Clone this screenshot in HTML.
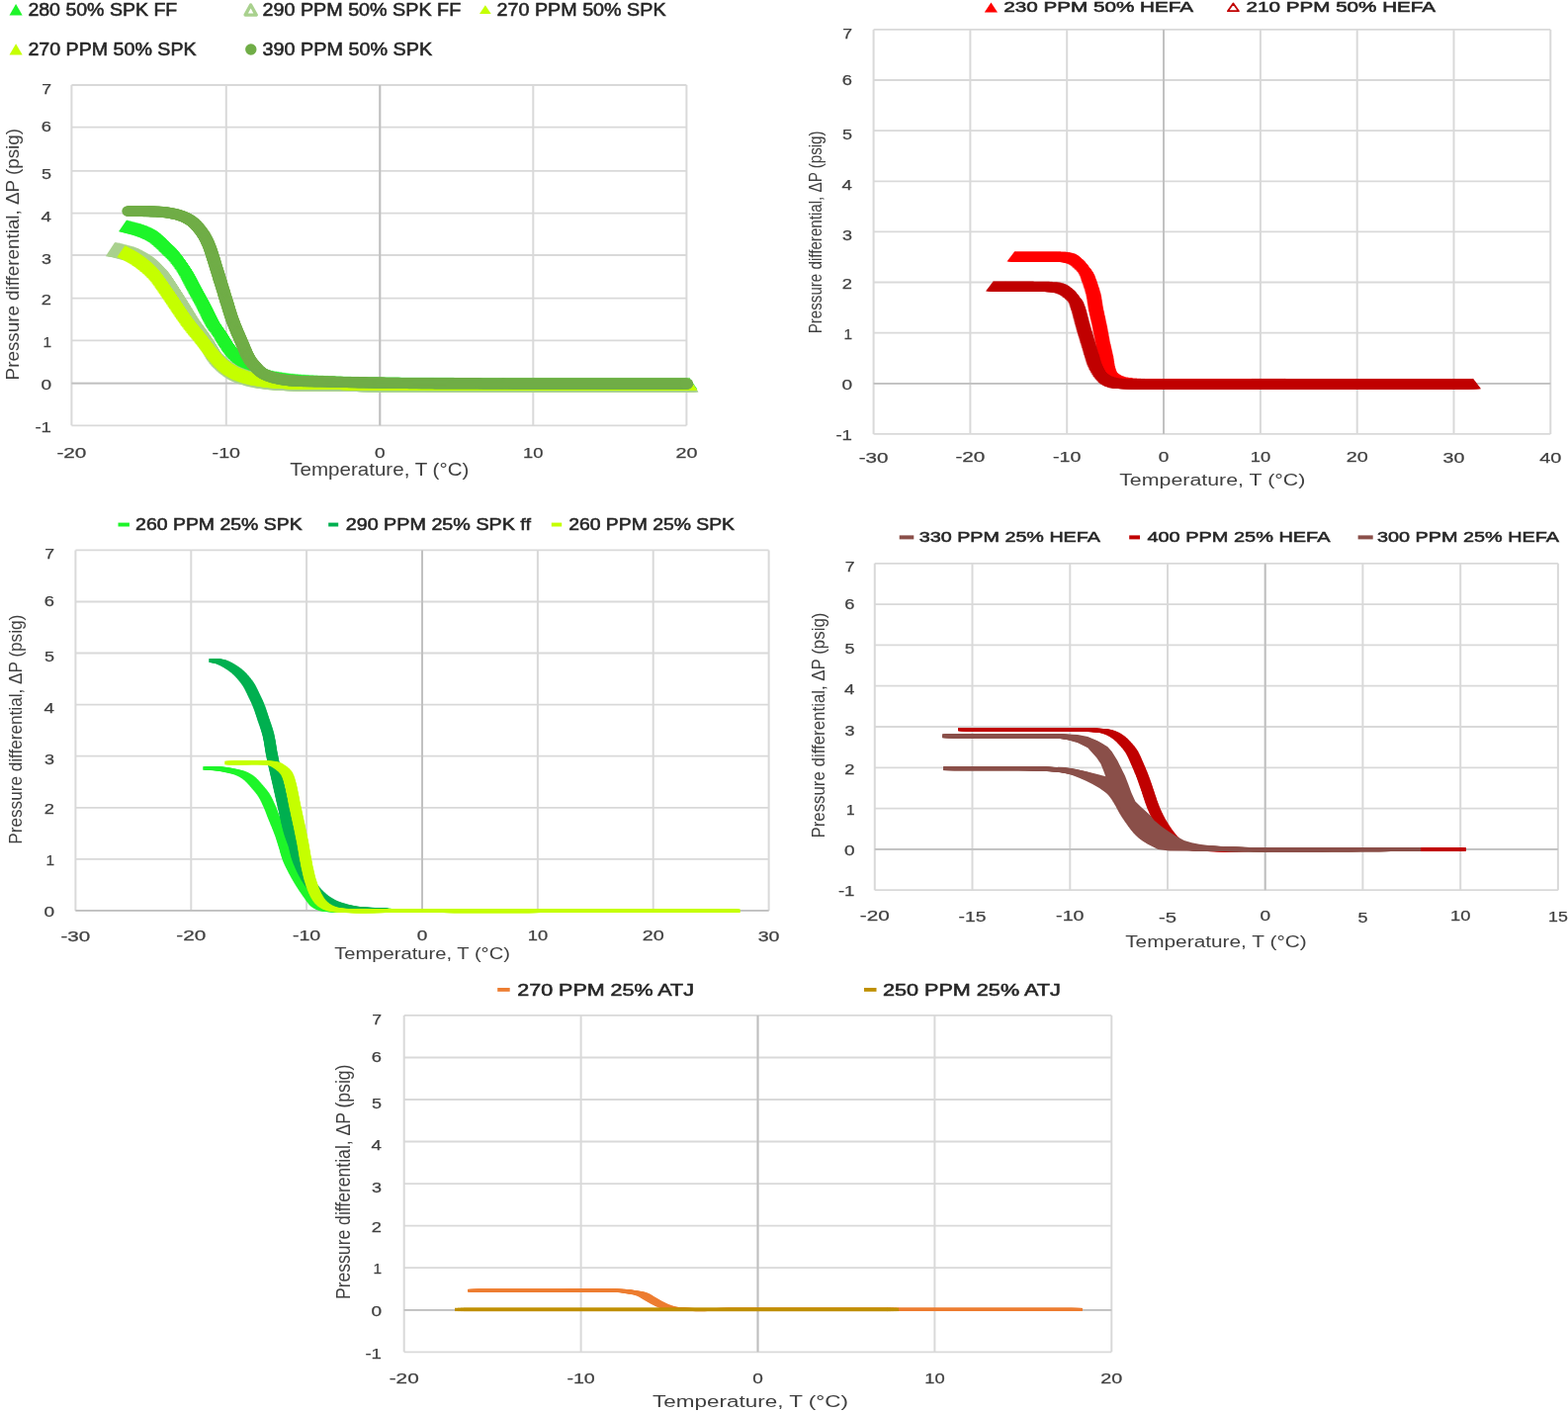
<!DOCTYPE html>
<html><head><meta charset="utf-8"><title>Pressure differential vs temperature</title>
<style>html,body{margin:0;padding:0;background:#fff;}svg{display:block;}text{font-family:'Liberation Sans', Arial, sans-serif;}</style>
</head><body>
<svg width="1586" height="1429" viewBox="0 0 1586 1429">
<defs><marker id="m1" markerUnits="userSpaceOnUse" markerWidth="1" markerHeight="1" refX="0" refY="0" overflow="visible" orient="0"><path d="M0,-6.00 L8.25,6.00 L-8.25,6.00 Z" fill="#1ef52a"/></marker>
<marker id="m2" markerUnits="userSpaceOnUse" markerWidth="1" markerHeight="1" refX="0" refY="0" overflow="visible" orient="0"><path d="M0,-7.25 L9.50,7.25 L-9.50,7.25 Z" fill="#a9d18e"/></marker>
<marker id="m3" markerUnits="userSpaceOnUse" markerWidth="1" markerHeight="1" refX="0" refY="0" overflow="visible" orient="0"><path d="M0,-6.00 L8.25,6.00 L-8.25,6.00 Z" fill="#c5ff00"/></marker>
<marker id="m4" markerUnits="userSpaceOnUse" markerWidth="1" markerHeight="1" refX="0" refY="0" overflow="visible" orient="0"><ellipse cx="0" cy="0" rx="6.70" ry="5.60" fill="#70ad47"/></marker>
<marker id="m5" markerUnits="userSpaceOnUse" markerWidth="1" markerHeight="1" refX="0" refY="0" overflow="visible" orient="0"><path d="M0,-5.25 L8.00,5.25 L-8.00,5.25 Z" fill="#ff0000"/></marker>
<marker id="m6" markerUnits="userSpaceOnUse" markerWidth="1" markerHeight="1" refX="0" refY="0" overflow="visible" orient="0"><path d="M0,-5.25 L8.00,5.25 L-8.00,5.25 Z" fill="#c00000"/></marker>
<marker id="m7" markerUnits="userSpaceOnUse" markerWidth="1" markerHeight="1" refX="0" refY="0" overflow="visible" orient="0"><rect x="-5.75" y="-1.80" width="11.50" height="3.60" fill="#1ef52a"/></marker>
<marker id="m8" markerUnits="userSpaceOnUse" markerWidth="1" markerHeight="1" refX="0" refY="0" overflow="visible" orient="0"><rect x="-5.75" y="-1.90" width="11.50" height="3.80" fill="#00b050"/></marker>
<marker id="m9" markerUnits="userSpaceOnUse" markerWidth="1" markerHeight="1" refX="0" refY="0" overflow="visible" orient="0"><rect x="-5.75" y="-1.80" width="11.50" height="3.60" fill="#c5ff00"/></marker>
<marker id="m10" markerUnits="userSpaceOnUse" markerWidth="1" markerHeight="1" refX="0" refY="0" overflow="visible" orient="0"><rect x="-6.00" y="-2.00" width="12.00" height="4.00" fill="#8a4f49"/></marker>
<marker id="m11" markerUnits="userSpaceOnUse" markerWidth="1" markerHeight="1" refX="0" refY="0" overflow="visible" orient="0"><rect x="-6.00" y="-1.70" width="12.00" height="3.40" fill="#c00000"/></marker>
<marker id="m12" markerUnits="userSpaceOnUse" markerWidth="1" markerHeight="1" refX="0" refY="0" overflow="visible" orient="0"><rect x="-6.00" y="-2.00" width="12.00" height="4.00" fill="#8a4f49"/></marker>
<marker id="m13" markerUnits="userSpaceOnUse" markerWidth="1" markerHeight="1" refX="0" refY="0" overflow="visible" orient="0"><rect x="-6.00" y="-1.50" width="12.00" height="3.00" fill="#ed7d31"/></marker>
<marker id="m14" markerUnits="userSpaceOnUse" markerWidth="1" markerHeight="1" refX="0" refY="0" overflow="visible" orient="0"><rect x="-6.00" y="-1.65" width="12.00" height="3.30" fill="#bf9000"/></marker></defs>
<rect width="1586" height="1429" fill="#fff"/>
<line x1="72.4" y1="86.0" x2="694.4" y2="86.0" stroke="#d9d9d9" stroke-width="1.8"/>
<line x1="72.4" y1="128.6" x2="694.4" y2="128.6" stroke="#d9d9d9" stroke-width="1.8"/>
<line x1="72.4" y1="172.8" x2="694.4" y2="172.8" stroke="#d9d9d9" stroke-width="1.8"/>
<line x1="72.4" y1="215.6" x2="694.4" y2="215.6" stroke="#d9d9d9" stroke-width="1.8"/>
<line x1="72.4" y1="258.0" x2="694.4" y2="258.0" stroke="#d9d9d9" stroke-width="1.8"/>
<line x1="72.4" y1="301.6" x2="694.4" y2="301.6" stroke="#d9d9d9" stroke-width="1.8"/>
<line x1="72.4" y1="344.4" x2="694.4" y2="344.4" stroke="#d9d9d9" stroke-width="1.8"/>
<line x1="72.4" y1="387.7" x2="694.4" y2="387.7" stroke="#d9d9d9" stroke-width="1.8"/>
<line x1="72.4" y1="430.3" x2="694.4" y2="430.3" stroke="#d9d9d9" stroke-width="1.8"/>
<line x1="72.4" y1="86.0" x2="72.4" y2="430.3" stroke="#d9d9d9" stroke-width="2.0"/>
<line x1="228.8" y1="86.0" x2="228.8" y2="430.3" stroke="#d9d9d9" stroke-width="2.0"/>
<line x1="384.3" y1="86.0" x2="384.3" y2="430.3" stroke="#d9d9d9" stroke-width="2.0"/>
<line x1="539.3" y1="86.0" x2="539.3" y2="430.3" stroke="#d9d9d9" stroke-width="2.0"/>
<line x1="694.4" y1="86.0" x2="694.4" y2="430.3" stroke="#d9d9d9" stroke-width="2.0"/>
<line x1="72.4" y1="387.7" x2="694.4" y2="387.7" stroke="#bfbfbf" stroke-width="1.8"/>
<line x1="384.3" y1="86.0" x2="384.3" y2="430.3" stroke="#bfbfbf" stroke-width="1.8"/>
<text x="72.4" y="462.5" font-size="14.5" fill="#404040" text-anchor="middle" font-weight="normal" textLength="30.0" lengthAdjust="spacingAndGlyphs" stroke="#404040" stroke-width="0.25">-20</text>
<text x="228.8" y="462.5" font-size="14.5" fill="#404040" text-anchor="middle" font-weight="normal" textLength="28.4" lengthAdjust="spacingAndGlyphs" stroke="#404040" stroke-width="0.25">-10</text>
<text x="384.3" y="462.5" font-size="14.5" fill="#404040" text-anchor="middle" font-weight="normal" textLength="10.6" lengthAdjust="spacingAndGlyphs" stroke="#404040" stroke-width="0.25">0</text>
<text x="539.3" y="462.5" font-size="14.5" fill="#404040" text-anchor="middle" font-weight="normal" textLength="20.4" lengthAdjust="spacingAndGlyphs" stroke="#404040" stroke-width="0.25">10</text>
<text x="694.4" y="462.5" font-size="14.5" fill="#404040" text-anchor="middle" font-weight="normal" textLength="22.0" lengthAdjust="spacingAndGlyphs" stroke="#404040" stroke-width="0.25">20</text>
<text x="52.0" y="94.6" font-size="14.5" fill="#404040" text-anchor="end" font-weight="normal" textLength="9.8" lengthAdjust="spacingAndGlyphs" stroke="#404040" stroke-width="0.25">7</text>
<text x="52.0" y="133.2" font-size="14.5" fill="#404040" text-anchor="end" font-weight="normal" textLength="10.2" lengthAdjust="spacingAndGlyphs" stroke="#404040" stroke-width="0.25">6</text>
<text x="52.0" y="181.4" font-size="14.5" fill="#404040" text-anchor="end" font-weight="normal" textLength="10.0" lengthAdjust="spacingAndGlyphs" stroke="#404040" stroke-width="0.25">5</text>
<text x="52.0" y="224.2" font-size="14.5" fill="#404040" text-anchor="end" font-weight="normal" textLength="10.4" lengthAdjust="spacingAndGlyphs" stroke="#404040" stroke-width="0.25">4</text>
<text x="52.0" y="266.6" font-size="14.5" fill="#404040" text-anchor="end" font-weight="normal" textLength="10.0" lengthAdjust="spacingAndGlyphs" stroke="#404040" stroke-width="0.25">3</text>
<text x="52.0" y="307.8" font-size="14.5" fill="#404040" text-anchor="end" font-weight="normal" textLength="10.2" lengthAdjust="spacingAndGlyphs" stroke="#404040" stroke-width="0.25">2</text>
<text x="52.0" y="350.6" font-size="14.5" fill="#404040" text-anchor="end" font-weight="normal" textLength="8.6" lengthAdjust="spacingAndGlyphs" stroke="#404040" stroke-width="0.25">1</text>
<text x="52.0" y="393.9" font-size="14.5" fill="#404040" text-anchor="end" font-weight="normal" textLength="10.6" lengthAdjust="spacingAndGlyphs" stroke="#404040" stroke-width="0.25">0</text>
<text x="52.0" y="436.5" font-size="14.5" fill="#404040" text-anchor="end" font-weight="normal" textLength="16.6" lengthAdjust="spacingAndGlyphs" stroke="#404040" stroke-width="0.25">-1</text>
<polyline points="128.2,228.2 129.2,228.5 130.1,228.7 131.1,228.9 132.1,229.2 133.0,229.4 134.0,229.7 135.0,229.9 136.0,230.2 136.9,230.4 137.9,230.7 138.8,231.0 139.8,231.2 140.8,231.5 141.7,231.8 142.7,232.1 143.6,232.4 144.6,232.8 145.5,233.1 146.5,233.4 147.4,233.8 148.3,234.1 149.3,234.5 150.2,234.9 151.1,235.3 152.0,235.7 152.9,236.1 153.8,236.5 154.7,237.0 155.6,237.5 156.5,238.0 157.3,238.5 158.2,239.0 159.0,239.6 159.8,240.2 160.6,240.8 161.4,241.4 162.1,242.1 162.9,242.7 163.6,243.4 164.4,244.0 165.1,244.7 165.9,245.4 166.6,246.1 167.3,246.8 168.0,247.5 168.7,248.2 169.4,248.9 170.1,249.6 170.8,250.3 171.5,251.0 172.2,251.7 173.0,252.4 173.7,253.1 174.4,253.8 175.2,254.5 175.9,255.1 176.6,255.9 177.3,256.6 178.0,257.3 178.6,258.1 179.3,258.8 179.9,259.6 180.5,260.4 181.2,261.1 181.8,261.9 182.4,262.7 183.0,263.5 183.6,264.3 184.2,265.2 184.7,266.0 185.3,266.8 185.9,267.6 186.4,268.5 187.0,269.3 187.5,270.1 188.0,271.0 188.5,271.9 189.0,272.7 189.5,273.6 190.0,274.5 190.5,275.3 190.9,276.2 191.4,277.1 191.9,278.0 192.3,278.9 192.8,279.8 193.2,280.7 193.7,281.6 194.1,282.5 194.6,283.3 195.1,284.2 195.5,285.1 196.0,286.0 196.5,286.9 197.0,287.8 197.4,288.6 197.9,289.5 198.4,290.4 198.9,291.3 199.4,292.1 199.9,293.0 200.3,293.9 200.8,294.8 201.3,295.6 201.8,296.5 202.3,297.4 202.7,298.3 203.2,299.1 203.7,300.0 204.2,300.9 204.6,301.8 205.1,302.7 205.6,303.6 206.0,304.5 206.5,305.3 206.9,306.2 207.4,307.1 207.8,308.0 208.2,308.9 208.7,309.8 209.1,310.7 209.6,311.6 210.0,312.5 210.5,313.4 210.9,314.3 211.3,315.2 211.8,316.1 212.2,317.0 212.7,317.9 213.1,318.8 213.6,319.7 214.1,320.6 214.5,321.4 215.0,322.3 215.5,323.2 216.0,324.1 216.5,324.9 217.0,325.8 217.6,326.6 218.1,327.4 218.7,328.2 219.3,329.0 219.9,329.8 220.5,330.6 221.2,331.4 221.8,332.2 222.3,333.0 222.9,333.9 223.4,334.7 224.0,335.5 224.5,336.4 225.0,337.3 225.5,338.1 226.0,339.0 226.5,339.9 227.0,340.7 227.5,341.6 228.0,342.5 228.5,343.3 229.1,344.1 229.6,345.0 230.2,345.8 230.8,346.6 231.3,347.5 231.9,348.3 232.4,349.1 233.0,349.9 233.6,350.7 234.2,351.5 234.8,352.3 235.4,353.1 236.1,353.9 236.7,354.7 237.4,355.4 238.0,356.2 238.7,356.9 239.4,357.6 240.1,358.3 240.8,359.0 241.5,359.8 242.2,360.4 243.0,361.1 243.7,361.8 244.4,362.5 245.2,363.1 245.9,363.8 246.7,364.4 247.5,365.1 248.3,365.7 249.0,366.3 249.8,366.9 250.7,367.5 251.5,368.1 252.3,368.7 253.1,369.2 254.0,369.8 254.8,370.3 255.6,370.8 256.5,371.4 257.3,371.9 258.2,372.4 259.1,372.9 259.9,373.4 260.8,374.0 261.6,374.5 262.5,375.0 263.3,375.5 264.2,376.0 265.0,376.5 265.9,377.0 266.8,377.5 267.7,378.0 268.6,378.4 269.5,378.8 270.4,379.2 271.4,379.5 272.3,379.8 273.3,380.1 274.2,380.4 275.2,380.6 276.2,380.8 277.2,381.0 278.2,381.2 279.2,381.3 280.1,381.5 281.1,381.6 282.1,381.8 283.1,381.9 284.1,382.1 285.1,382.2 286.1,382.4 287.1,382.5 288.1,382.7 289.0,382.8 290.0,382.9 291.0,383.1 292.0,383.2 293.0,383.3 294.0,383.4 295.0,383.5 296.0,383.6 297.0,383.7 298.0,383.8 299.0,383.9 300.0,384.0 301.0,384.1 302.0,384.2 303.0,384.2 304.0,384.3 305.0,384.4 306.0,384.5 307.0,384.5 308.0,384.6 309.0,384.7 309.9,384.7 310.9,384.8 311.9,384.8 312.9,384.9 313.9,385.0 314.9,385.0 315.9,385.1 316.9,385.1 317.9,385.2 318.9,385.2 319.9,385.3 320.9,385.3 321.9,385.4 322.9,385.4 323.9,385.5 324.9,385.5 325.9,385.6 326.9,385.6 327.9,385.7 328.9,385.7 329.9,385.8 330.9,385.8 331.9,385.8 332.9,385.9 333.9,385.9 334.9,386.0 335.9,386.0 336.9,386.0 337.9,386.1 338.9,386.1 339.9,386.2 340.9,386.2 341.9,386.2 342.9,386.3 343.9,386.3 344.9,386.3 345.9,386.4 346.9,386.4 347.9,386.4 348.9,386.5 349.9,386.5 350.9,386.5 351.9,386.6 352.9,386.6 353.9,386.6 354.9,386.6 355.9,386.7 356.9,386.7 357.9,386.7 358.9,386.7 359.9,386.8 360.9,386.8 361.9,386.8 362.9,386.8 363.9,386.9 364.9,386.9 365.9,386.9 366.9,386.9 367.9,386.9 368.9,386.9 369.9,387.0 370.9,387.0 371.9,387.0 372.9,387.0 373.9,387.0 374.9,387.0 375.9,387.1 376.9,387.1 377.9,387.1 378.9,387.1 379.9,387.1 380.9,387.1 381.9,387.1 382.9,387.2 383.9,387.2 384.9,387.2 385.9,387.2 386.9,387.2 387.9,387.2 388.9,387.2 389.9,387.2 390.9,387.2 391.9,387.2 392.9,387.3 393.9,387.3 394.9,387.3 395.9,387.3 396.9,387.3 397.9,387.3 398.9,387.3 399.9,387.3 400.9,387.3 401.9,387.3 402.9,387.3 403.9,387.3 404.9,387.3 405.9,387.4 406.9,387.4 407.9,387.4 408.9,387.4 409.9,387.4 410.9,387.4 411.9,387.4 412.9,387.4 413.9,387.4 414.9,387.4 415.9,387.4 416.9,387.4 417.9,387.4 418.9,387.4 419.9,387.4 420.9,387.4 421.9,387.4 422.9,387.5 423.9,387.5 424.9,387.5 425.9,387.5 426.9,387.5 427.9,387.5 428.9,387.5 429.9,387.5 430.9,387.5 431.9,387.5 432.9,387.5 433.9,387.5 434.9,387.5 435.9,387.5 436.9,387.5 437.9,387.5 438.9,387.5 439.9,387.5 440.9,387.5 441.9,387.6 442.9,387.6 443.9,387.6 444.9,387.6 445.9,387.6 446.9,387.6 447.9,387.6 448.9,387.6 449.9,387.6 450.9,387.6 451.9,387.6 452.9,387.6 453.9,387.6 454.9,387.6 455.9,387.6 456.9,387.6 457.9,387.6 458.9,387.6 459.9,387.7 460.9,387.7 461.9,387.7 462.9,387.7 463.9,387.7 464.9,387.7 465.9,387.7 466.9,387.7 467.9,387.7 468.9,387.7 469.9,387.7 470.9,387.7 471.9,387.7 472.9,387.7 473.9,387.7 474.9,387.7 475.9,387.7 476.9,387.7 477.9,387.7 478.9,387.7 479.9,387.7 480.9,387.7 481.9,387.7 482.9,387.7 483.9,387.7 484.9,387.7 485.9,387.7 486.9,387.7 487.9,387.7 488.9,387.8 489.9,387.8 490.9,387.8 491.9,387.8 492.9,387.8 493.9,387.8 494.9,387.8 495.9,387.8 496.9,387.8 497.9,387.8 498.9,387.8 499.9,387.8 500.9,387.8 501.9,387.8 502.9,387.8 503.9,387.8 504.9,387.8 505.9,387.8 506.9,387.8 507.9,387.8 508.9,387.8 509.9,387.8 510.9,387.8 511.9,387.8 512.9,387.8 513.9,387.8 514.9,387.8 515.9,387.8 516.9,387.8 517.9,387.8 518.9,387.8 519.9,387.8 520.9,387.8 521.9,387.8 522.9,387.8 523.9,387.8 524.9,387.8 525.9,387.8 526.9,387.8 527.9,387.8 528.9,387.8 529.9,387.8 530.9,387.8 531.9,387.8 532.9,387.8 533.9,387.8 534.9,387.8 535.9,387.8 536.9,387.8 537.9,387.8 538.9,387.8 539.9,387.8 540.9,387.8 541.9,387.8 542.9,387.8 543.9,387.8 544.9,387.8 545.9,387.8 546.9,387.8 547.9,387.8 548.9,387.8 549.9,387.8 550.9,387.8 551.9,387.8 552.9,387.8 553.9,387.8 554.9,387.8 555.9,387.8 556.9,387.8 557.9,387.8 558.9,387.8 559.9,387.8 560.9,387.8 561.9,387.8 562.9,387.8 563.9,387.8 564.9,387.8 565.9,387.8 566.9,387.8 567.9,387.8 568.9,387.8 569.9,387.8 570.9,387.8 571.9,387.8 572.9,387.8 573.9,387.8 574.9,387.8 575.9,387.8 576.9,387.8 577.9,387.8 578.9,387.8 579.9,387.8 580.9,387.8 581.9,387.8 582.9,387.8 583.9,387.8 584.9,387.8 585.9,387.8 586.9,387.8 587.9,387.8 588.9,387.8 589.9,387.8 590.9,387.8 591.9,387.8 592.9,387.8 593.9,387.8 594.9,387.8 595.9,387.8 596.9,387.8 597.9,387.8 598.9,387.8 599.9,387.8 600.9,387.8 601.9,387.8 602.9,387.8 603.9,387.8 604.9,387.8 605.9,387.8 606.9,387.8 607.9,387.8 608.9,387.8 609.9,387.8 610.9,387.8 611.9,387.8 612.9,387.8 613.9,387.8 614.9,387.8 615.9,387.8 616.9,387.8 617.9,387.8 618.9,387.8 619.9,387.8 620.9,387.8 621.9,387.8 622.9,387.8 623.9,387.8 624.9,387.8 625.9,387.8 626.9,387.8 627.9,387.8 628.9,387.8 629.9,387.8 630.9,387.8 631.9,387.8 632.9,387.8 633.9,387.8 634.9,387.8 635.9,387.8 636.9,387.8 637.9,387.8 638.9,387.8 639.9,387.8 640.9,387.8 641.9,387.8 642.9,387.8 643.9,387.8 644.9,387.8 645.9,387.8 646.9,387.8 647.9,387.8 648.9,387.8 649.9,387.8 650.9,387.8 651.9,387.8 652.9,387.8 653.9,387.8 654.9,387.8 655.9,387.8 656.9,387.8 657.9,387.8 658.9,387.8 659.9,387.8 660.9,387.8 661.9,387.8 662.9,387.8 663.9,387.8 664.9,387.8 665.9,387.8 666.9,387.8 667.9,387.8 668.9,387.8 669.9,387.8 670.9,387.8 671.9,387.8 672.9,387.8 673.9,387.8 674.9,387.8 675.9,387.8 676.9,387.8 677.9,387.8 678.9,387.8 679.9,387.8 680.9,387.8 681.9,387.8 682.9,387.8 683.9,387.8 684.9,387.8 685.9,387.8 686.9,387.8 687.9,387.8 688.9,387.8 689.9,387.8 690.9,387.8 691.9,387.8 692.9,387.8 693.9,387.8 694.9,387.8 695.9,387.8 696.9,387.8 697.0,387.8" fill="none" stroke="none" marker-start="url(#m1)" marker-mid="url(#m1)" marker-end="url(#m1)"/>
<polyline points="116.3,252.0 117.3,252.1 118.3,252.3 119.3,252.4 120.3,252.6 121.2,252.8 122.2,253.1 123.2,253.3 124.1,253.5 125.1,253.8 126.1,254.0 127.1,254.2 128.0,254.4 129.0,254.7 130.0,254.9 130.9,255.2 131.9,255.4 132.9,255.7 133.8,256.0 134.8,256.3 135.7,256.6 136.7,257.0 137.6,257.3 138.5,257.7 139.5,258.1 140.4,258.5 141.3,258.9 142.2,259.4 143.1,259.8 143.9,260.3 144.8,260.8 145.7,261.3 146.6,261.7 147.4,262.2 148.3,262.7 149.2,263.2 150.0,263.8 150.9,264.3 151.7,264.8 152.5,265.4 153.4,266.0 154.2,266.5 155.0,267.1 155.8,267.7 156.6,268.4 157.3,269.0 158.1,269.7 158.8,270.3 159.5,271.0 160.3,271.7 161.0,272.4 161.7,273.1 162.4,273.9 163.0,274.6 163.7,275.3 164.4,276.0 165.1,276.7 165.8,277.4 166.5,278.2 167.2,278.9 167.9,279.6 168.6,280.4 169.2,281.1 169.8,281.9 170.4,282.8 171.0,283.6 171.5,284.4 172.1,285.2 172.6,286.1 173.1,286.9 173.7,287.8 174.2,288.6 174.7,289.5 175.2,290.3 175.8,291.2 176.3,292.0 176.9,292.8 177.4,293.7 178.0,294.5 178.5,295.4 179.1,296.2 179.6,297.0 180.1,297.9 180.7,298.7 181.2,299.6 181.7,300.4 182.3,301.3 182.8,302.1 183.3,303.0 183.9,303.8 184.4,304.7 184.9,305.5 185.4,306.4 186.0,307.2 186.5,308.1 187.0,308.9 187.5,309.8 188.0,310.6 188.6,311.5 189.1,312.3 189.6,313.2 190.1,314.0 190.7,314.9 191.2,315.8 191.7,316.6 192.2,317.5 192.8,318.3 193.3,319.2 193.8,320.0 194.3,320.8 194.9,321.7 195.4,322.5 196.0,323.4 196.5,324.2 197.1,325.0 197.6,325.9 198.2,326.7 198.8,327.5 199.3,328.3 199.9,329.1 200.5,330.0 201.1,330.8 201.7,331.6 202.3,332.4 202.9,333.2 203.5,334.0 204.1,334.8 204.7,335.6 205.3,336.4 205.8,337.2 206.4,338.0 207.0,338.8 207.6,339.6 208.2,340.4 208.8,341.2 209.4,342.1 209.9,342.9 210.5,343.7 211.0,344.6 211.6,345.4 212.1,346.2 212.6,347.1 213.1,348.0 213.6,348.8 214.1,349.7 214.6,350.6 215.1,351.5 215.5,352.3 216.0,353.2 216.5,354.1 217.0,355.0 217.5,355.8 218.0,356.7 218.6,357.5 219.2,358.3 219.7,359.1 220.4,359.9 221.0,360.7 221.6,361.5 222.3,362.2 222.9,363.0 223.6,363.7 224.3,364.4 225.0,365.1 225.7,365.8 226.4,366.5 227.2,367.2 227.9,367.9 228.7,368.6 229.4,369.2 230.2,369.9 231.0,370.5 231.7,371.1 232.5,371.7 233.3,372.3 234.2,372.9 235.0,373.5 235.8,374.0 236.6,374.6 237.5,375.1 238.3,375.7 239.2,376.2 240.0,376.7 240.9,377.2 241.8,377.6 242.7,378.0 243.6,378.5 244.5,378.8 245.5,379.2 246.4,379.6 247.3,379.9 248.3,380.3 249.2,380.6 250.2,380.9 251.1,381.2 252.1,381.5 253.0,381.8 254.0,382.1 254.9,382.4 255.9,382.7 256.9,383.0 257.8,383.2 258.8,383.4 259.8,383.7 260.8,383.9 261.7,384.1 262.7,384.3 263.7,384.5 264.7,384.7 265.7,384.9 266.6,385.0 267.6,385.2 268.6,385.4 269.6,385.5 270.6,385.7 271.6,385.8 272.6,385.9 273.6,386.1 274.6,386.2 275.6,386.3 276.5,386.4 277.5,386.5 278.5,386.7 279.5,386.8 280.5,386.9 281.5,386.9 282.5,387.0 283.5,387.1 284.5,387.2 285.5,387.3 286.5,387.4 287.5,387.4 288.5,387.5 289.5,387.5 290.5,387.6 291.5,387.7 292.5,387.7 293.5,387.7 294.5,387.8 295.5,387.8 296.5,387.9 297.5,387.9 298.5,387.9 299.5,388.0 300.5,388.0 301.5,388.0 302.5,388.1 303.5,388.1 304.5,388.1 305.5,388.2 306.5,388.2 307.5,388.2 308.5,388.2 309.5,388.3 310.5,388.3 311.5,388.3 312.5,388.3 313.5,388.3 314.5,388.4 315.5,388.4 316.5,388.4 317.5,388.4 318.5,388.4 319.5,388.4 320.5,388.5 321.5,388.5 322.5,388.5 323.5,388.5 324.5,388.5 325.5,388.5 326.5,388.5 327.5,388.5 328.5,388.6 329.5,388.6 330.5,388.6 331.5,388.6 332.5,388.6 333.5,388.6 334.5,388.6 335.5,388.6 336.5,388.6 337.5,388.6 338.5,388.7 339.5,388.7 340.5,388.7 341.5,388.7 342.5,388.7 343.5,388.7 344.5,388.7 345.5,388.7 346.5,388.7 347.5,388.7 348.5,388.7 349.5,388.7 350.5,388.7 351.5,388.7 352.5,388.8 353.5,388.8 354.5,388.8 355.5,388.8 356.5,388.8 357.5,388.8 358.5,388.8 359.5,388.8 360.5,388.8 361.5,388.8 362.5,388.8 363.5,388.8 364.5,388.8 365.5,388.8 366.5,388.8 367.5,388.8 368.5,388.8 369.5,388.8 370.5,388.9 371.5,388.9 372.5,388.9 373.5,388.9 374.5,388.9 375.5,388.9 376.5,388.9 377.5,388.9 378.5,388.9 379.5,388.9 380.5,388.9 381.5,388.9 382.5,388.9 383.5,388.9 384.5,388.9 385.5,388.9 386.5,388.9 387.5,388.9 388.5,388.9 389.5,388.9 390.5,389.0 391.5,389.0 392.5,389.0 393.5,389.0 394.5,389.0 395.5,389.0 396.5,389.0 397.5,389.0 398.5,389.0 399.5,389.0 400.5,389.0 401.5,389.0 402.5,389.0 403.5,389.0 404.5,389.0 405.5,389.0 406.5,389.0 407.5,389.0 408.5,389.0 409.5,389.0 410.5,389.1 411.5,389.1 412.5,389.1 413.5,389.1 414.5,389.1 415.5,389.1 416.5,389.1 417.5,389.1 418.5,389.1 419.5,389.1 420.5,389.1 421.5,389.1 422.5,389.1 423.5,389.1 424.5,389.1 425.5,389.1 426.5,389.1 427.5,389.1 428.5,389.1 429.5,389.1 430.5,389.1 431.5,389.1 432.5,389.1 433.5,389.1 434.5,389.1 435.5,389.1 436.5,389.1 437.5,389.1 438.5,389.1 439.5,389.2 440.5,389.2 441.5,389.2 442.5,389.2 443.5,389.2 444.5,389.2 445.5,389.2 446.5,389.2 447.5,389.2 448.5,389.2 449.5,389.2 450.5,389.2 451.5,389.2 452.5,389.2 453.5,389.2 454.5,389.2 455.5,389.2 456.5,389.2 457.5,389.2 458.5,389.2 459.5,389.2 460.5,389.2 461.5,389.2 462.5,389.2 463.5,389.2 464.5,389.2 465.5,389.2 466.5,389.2 467.5,389.2 468.5,389.2 469.5,389.2 470.5,389.2 471.5,389.2 472.5,389.2 473.5,389.2 474.5,389.2 475.5,389.2 476.5,389.2 477.5,389.2 478.5,389.2 479.5,389.2 480.5,389.2 481.5,389.2 482.5,389.2 483.5,389.2 484.5,389.2 485.5,389.2 486.5,389.2 487.5,389.2 488.5,389.2 489.5,389.2 490.5,389.2 491.5,389.2 492.5,389.2 493.5,389.2 494.5,389.2 495.5,389.2 496.5,389.2 497.5,389.2 498.5,389.2 499.5,389.2 500.5,389.2 501.5,389.2 502.5,389.2 503.5,389.2 504.5,389.2 505.5,389.2 506.5,389.2 507.5,389.2 508.5,389.3 509.5,389.3 510.5,389.3 511.5,389.3 512.5,389.3 513.5,389.3 514.5,389.3 515.5,389.3 516.5,389.3 517.5,389.3 518.5,389.3 519.5,389.3 520.5,389.3 521.5,389.3 522.5,389.3 523.5,389.3 524.5,389.3 525.5,389.3 526.5,389.3 527.5,389.3 528.5,389.3 529.5,389.3 530.5,389.3 531.5,389.3 532.5,389.3 533.5,389.3 534.5,389.3 535.5,389.3 536.5,389.3 537.5,389.3 538.5,389.3 539.5,389.3 540.5,389.3 541.5,389.3 542.5,389.3 543.5,389.3 544.5,389.3 545.5,389.3 546.5,389.3 547.5,389.3 548.5,389.3 549.5,389.3 550.5,389.3 551.5,389.3 552.5,389.3 553.5,389.3 554.5,389.3 555.5,389.3 556.5,389.3 557.5,389.3 558.5,389.3 559.5,389.3 560.5,389.3 561.5,389.3 562.5,389.3 563.5,389.3 564.5,389.3 565.5,389.3 566.5,389.3 567.5,389.3 568.5,389.3 569.5,389.3 570.5,389.3 571.5,389.3 572.5,389.3 573.5,389.3 574.5,389.3 575.5,389.3 576.5,389.3 577.5,389.3 578.5,389.3 579.5,389.3 580.5,389.3 581.5,389.3 582.5,389.3 583.5,389.3 584.5,389.3 585.5,389.3 586.5,389.3 587.5,389.3 588.5,389.3 589.5,389.3 590.5,389.3 591.5,389.3 592.5,389.3 593.5,389.3 594.5,389.3 595.5,389.3 596.5,389.3 597.5,389.3 598.5,389.3 599.5,389.3 600.5,389.3 601.5,389.3 602.5,389.3 603.5,389.3 604.5,389.3 605.5,389.3 606.5,389.3 607.5,389.3 608.5,389.3 609.5,389.3 610.5,389.3 611.5,389.3 612.5,389.3 613.5,389.3 614.5,389.3 615.5,389.3 616.5,389.3 617.5,389.3 618.5,389.3 619.5,389.3 620.5,389.3 621.5,389.3 622.5,389.3 623.5,389.3 624.5,389.3 625.5,389.3 626.5,389.3 627.5,389.3 628.5,389.3 629.5,389.3 630.5,389.3 631.5,389.3 632.5,389.3 633.5,389.3 634.5,389.3 635.5,389.3 636.5,389.3 637.5,389.3 638.5,389.3 639.5,389.3 640.5,389.3 641.5,389.3 642.5,389.3 643.5,389.3 644.5,389.3 645.5,389.3 646.5,389.3 647.5,389.3 648.5,389.3 649.5,389.3 650.5,389.3 651.5,389.3 652.5,389.3 653.5,389.3 654.5,389.3 655.5,389.3 656.5,389.3 657.5,389.3 658.5,389.3 659.5,389.3 660.5,389.3 661.5,389.3 662.5,389.3 663.5,389.3 664.5,389.3 665.5,389.3 666.5,389.3 667.5,389.3 668.5,389.3 669.5,389.3 670.5,389.3 671.5,389.3 672.5,389.3 673.5,389.3 674.5,389.3 675.5,389.3 676.5,389.3 677.5,389.3 678.5,389.3 679.5,389.3 680.5,389.3 681.5,389.3 682.5,389.3 683.5,389.3 684.5,389.3 685.5,389.3 686.5,389.3 687.5,389.3 688.5,389.3 689.5,389.3 690.5,389.3 691.5,389.3 692.5,389.3 693.5,389.3 694.5,389.3 695.5,389.3 696.5,389.3 697.0,389.3" fill="none" stroke="none" marker-start="url(#m2)" marker-mid="url(#m2)" marker-end="url(#m2)"/>
<polyline points="126.5,254.2 127.4,254.6 128.3,255.1 129.2,255.5 130.1,256.0 131.0,256.4 131.9,256.9 132.8,257.3 133.6,257.8 134.5,258.3 135.4,258.8 136.3,259.2 137.1,259.7 138.0,260.2 138.9,260.7 139.7,261.3 140.6,261.8 141.4,262.4 142.2,262.9 143.0,263.5 143.9,264.1 144.7,264.7 145.5,265.3 146.3,265.9 147.1,266.5 147.8,267.1 148.6,267.7 149.4,268.4 150.2,269.0 150.9,269.6 151.7,270.3 152.4,271.0 153.2,271.6 153.9,272.3 154.7,273.0 155.4,273.7 156.1,274.4 156.8,275.1 157.5,275.8 158.1,276.6 158.8,277.3 159.5,278.1 160.1,278.8 160.7,279.6 161.4,280.4 162.0,281.2 162.6,282.0 163.1,282.8 163.7,283.6 164.3,284.4 164.9,285.2 165.4,286.1 166.0,286.9 166.6,287.7 167.1,288.5 167.7,289.4 168.3,290.2 168.9,291.0 169.4,291.8 170.0,292.7 170.5,293.5 171.1,294.3 171.7,295.1 172.2,296.0 172.8,296.8 173.3,297.6 173.9,298.5 174.5,299.3 175.0,300.1 175.6,300.9 176.1,301.8 176.7,302.6 177.3,303.4 177.8,304.2 178.4,305.1 178.9,305.9 179.5,306.7 180.1,307.6 180.6,308.4 181.2,309.2 181.7,310.1 182.3,310.9 182.8,311.7 183.4,312.5 184.0,313.4 184.5,314.2 185.1,315.0 185.7,315.9 186.2,316.7 186.8,317.5 187.4,318.3 187.9,319.1 188.5,320.0 189.1,320.8 189.7,321.6 190.2,322.4 190.8,323.2 191.4,324.0 192.0,324.8 192.6,325.6 193.2,326.4 193.8,327.2 194.5,328.0 195.1,328.8 195.7,329.6 196.3,330.4 196.9,331.1 197.6,331.9 198.2,332.7 198.8,333.4 199.5,334.2 200.1,335.0 200.8,335.8 201.4,336.5 202.0,337.3 202.7,338.1 203.3,338.8 204.0,339.6 204.6,340.4 205.2,341.2 205.9,341.9 206.5,342.7 207.1,343.5 207.7,344.3 208.3,345.1 208.9,345.9 209.5,346.7 210.1,347.5 210.7,348.3 211.3,349.1 211.9,349.9 212.5,350.7 213.1,351.5 213.7,352.3 214.3,353.1 214.9,353.9 215.5,354.7 216.1,355.5 216.8,356.2 217.4,357.0 218.0,357.8 218.7,358.5 219.4,359.3 220.0,360.0 220.7,360.8 221.3,361.5 222.0,362.3 222.7,363.0 223.4,363.8 224.0,364.5 224.7,365.2 225.4,365.9 226.2,366.6 226.9,367.3 227.6,368.0 228.3,368.7 229.1,369.3 229.9,370.0 230.7,370.6 231.4,371.2 232.3,371.8 233.1,372.4 233.9,372.9 234.7,373.5 235.6,374.0 236.4,374.5 237.3,375.1 238.2,375.5 239.0,376.0 239.9,376.5 240.8,377.0 241.7,377.4 242.6,377.8 243.5,378.2 244.5,378.6 245.4,378.9 246.3,379.3 247.3,379.6 248.2,380.0 249.2,380.3 250.1,380.6 251.1,380.9 252.0,381.2 253.0,381.4 253.9,381.7 254.9,382.0 255.9,382.3 256.8,382.5 257.8,382.7 258.8,383.0 259.8,383.2 260.7,383.4 261.7,383.6 262.7,383.8 263.7,384.0 264.7,384.1 265.7,384.3 266.6,384.5 267.6,384.6 268.6,384.8 269.6,384.9 270.6,385.1 271.6,385.2 272.6,385.4 273.6,385.5 274.6,385.6 275.6,385.7 276.5,385.8 277.5,385.9 278.5,386.1 279.5,386.2 280.5,386.3 281.5,386.3 282.5,386.4 283.5,386.5 284.5,386.6 285.5,386.7 286.5,386.8 287.5,386.8 288.5,386.9 289.5,386.9 290.5,387.0 291.5,387.1 292.5,387.1 293.5,387.1 294.5,387.2 295.5,387.2 296.5,387.3 297.5,387.3 298.5,387.3 299.5,387.4 300.5,387.4 301.5,387.4 302.5,387.5 303.5,387.5 304.5,387.5 305.5,387.6 306.5,387.6 307.5,387.6 308.5,387.6 309.5,387.7 310.5,387.7 311.5,387.7 312.5,387.7 313.5,387.7 314.5,387.8 315.5,387.8 316.5,387.8 317.5,387.8 318.5,387.8 319.5,387.8 320.5,387.9 321.5,387.9 322.5,387.9 323.5,387.9 324.5,387.9 325.5,387.9 326.5,387.9 327.5,387.9 328.5,388.0 329.5,388.0 330.5,388.0 331.5,388.0 332.5,388.0 333.5,388.0 334.5,388.0 335.5,388.0 336.5,388.0 337.5,388.0 338.5,388.1 339.5,388.1 340.5,388.1 341.5,388.1 342.5,388.1 343.5,388.1 344.5,388.1 345.5,388.1 346.5,388.1 347.5,388.1 348.5,388.1 349.5,388.1 350.5,388.1 351.5,388.1 352.5,388.2 353.5,388.2 354.5,388.2 355.5,388.2 356.5,388.2 357.5,388.2 358.5,388.2 359.5,388.2 360.5,388.2 361.5,388.2 362.5,388.2 363.5,388.2 364.5,388.2 365.5,388.2 366.5,388.2 367.5,388.2 368.5,388.2 369.5,388.2 370.5,388.2 371.5,388.3 372.5,388.3 373.5,388.3 374.5,388.3 375.5,388.3 376.5,388.3 377.5,388.3 378.5,388.3 379.5,388.3 380.5,388.3 381.5,388.3 382.5,388.3 383.5,388.3 384.5,388.3 385.5,388.3 386.5,388.3 387.5,388.3 388.5,388.3 389.5,388.3 390.5,388.3 391.5,388.4 392.5,388.4 393.5,388.4 394.5,388.4 395.5,388.4 396.5,388.4 397.5,388.4 398.5,388.4 399.5,388.4 400.5,388.4 401.5,388.4 402.5,388.4 403.5,388.4 404.5,388.4 405.5,388.4 406.5,388.4 407.5,388.4 408.5,388.4 409.5,388.4 410.5,388.5 411.5,388.5 412.5,388.5 413.5,388.5 414.5,388.5 415.5,388.5 416.5,388.5 417.5,388.5 418.5,388.5 419.5,388.5 420.5,388.5 421.5,388.5 422.5,388.5 423.5,388.5 424.5,388.5 425.5,388.5 426.5,388.5 427.5,388.5 428.5,388.5 429.5,388.5 430.5,388.5 431.5,388.5 432.5,388.5 433.5,388.5 434.5,388.5 435.5,388.5 436.5,388.6 437.5,388.6 438.5,388.6 439.5,388.6 440.5,388.6 441.5,388.6 442.5,388.6 443.5,388.6 444.5,388.6 445.5,388.6 446.5,388.6 447.5,388.6 448.5,388.6 449.5,388.6 450.5,388.6 451.5,388.6 452.5,388.6 453.5,388.6 454.5,388.6 455.5,388.6 456.5,388.6 457.5,388.6 458.5,388.6 459.5,388.6 460.5,388.6 461.5,388.6 462.5,388.6 463.5,388.6 464.5,388.6 465.5,388.6 466.5,388.6 467.5,388.6 468.5,388.6 469.5,388.6 470.5,388.6 471.5,388.6 472.5,388.6 473.5,388.6 474.5,388.6 475.5,388.6 476.5,388.6 477.5,388.6 478.5,388.6 479.5,388.6 480.5,388.6 481.5,388.6 482.5,388.7 483.5,388.7 484.5,388.7 485.5,388.7 486.5,388.7 487.5,388.7 488.5,388.7 489.5,388.7 490.5,388.7 491.5,388.7 492.5,388.7 493.5,388.7 494.5,388.7 495.5,388.7 496.5,388.7 497.5,388.7 498.5,388.7 499.5,388.7 500.5,388.7 501.5,388.7 502.5,388.7 503.5,388.7 504.5,388.7 505.5,388.7 506.5,388.7 507.5,388.7 508.5,388.7 509.5,388.7 510.5,388.7 511.5,388.7 512.5,388.7 513.5,388.7 514.5,388.7 515.5,388.7 516.5,388.7 517.5,388.7 518.5,388.7 519.5,388.7 520.5,388.7 521.5,388.7 522.5,388.7 523.5,388.7 524.5,388.7 525.5,388.7 526.5,388.7 527.5,388.7 528.5,388.7 529.5,388.7 530.5,388.7 531.5,388.7 532.5,388.7 533.5,388.7 534.5,388.7 535.5,388.7 536.5,388.7 537.5,388.7 538.5,388.7 539.5,388.7 540.5,388.7 541.5,388.7 542.5,388.7 543.5,388.7 544.5,388.7 545.5,388.7 546.5,388.7 547.5,388.7 548.5,388.7 549.5,388.7 550.5,388.7 551.5,388.7 552.5,388.7 553.5,388.7 554.5,388.7 555.5,388.7 556.5,388.7 557.5,388.7 558.5,388.7 559.5,388.7 560.5,388.7 561.5,388.7 562.5,388.7 563.5,388.7 564.5,388.7 565.5,388.7 566.5,388.7 567.5,388.7 568.5,388.7 569.5,388.7 570.5,388.7 571.5,388.7 572.5,388.7 573.5,388.7 574.5,388.7 575.5,388.7 576.5,388.7 577.5,388.7 578.5,388.7 579.5,388.7 580.5,388.7 581.5,388.7 582.5,388.7 583.5,388.7 584.5,388.7 585.5,388.7 586.5,388.7 587.5,388.7 588.5,388.7 589.5,388.7 590.5,388.7 591.5,388.7 592.5,388.7 593.5,388.7 594.5,388.7 595.5,388.7 596.5,388.7 597.5,388.7 598.5,388.7 599.5,388.7 600.5,388.7 601.5,388.7 602.5,388.7 603.5,388.7 604.5,388.7 605.5,388.7 606.5,388.7 607.5,388.7 608.5,388.7 609.5,388.7 610.5,388.7 611.5,388.7 612.5,388.7 613.5,388.7 614.5,388.7 615.5,388.7 616.5,388.7 617.5,388.7 618.5,388.7 619.5,388.7 620.5,388.7 621.5,388.7 622.5,388.7 623.5,388.7 624.5,388.7 625.5,388.7 626.5,388.7 627.5,388.7 628.5,388.7 629.5,388.7 630.5,388.7 631.5,388.7 632.5,388.7 633.5,388.7 634.5,388.7 635.5,388.7 636.5,388.7 637.5,388.7 638.5,388.7 639.5,388.7 640.5,388.7 641.5,388.8 642.5,388.8 643.5,388.8 644.5,388.8 645.5,388.8 646.5,388.8 647.5,388.8 648.5,388.8 649.5,388.8 650.5,388.8 651.5,388.8 652.5,388.8 653.5,388.8 654.5,388.8 655.5,388.8 656.5,388.8 657.5,388.8 658.5,388.8 659.5,388.8 660.5,388.8 661.5,388.8 662.5,388.8 663.5,388.8 664.5,388.8 665.5,388.8 666.5,388.8 667.5,388.8 668.5,388.8 669.5,388.8 670.5,388.8 671.5,388.8 672.5,388.8 673.5,388.8 674.5,388.8 675.5,388.8 676.5,388.8 677.5,388.8 678.5,388.8 679.5,388.8 680.5,388.8 681.5,388.8 682.5,388.8 683.5,388.8 684.5,388.8 685.5,388.8 686.5,388.8 687.5,388.8 688.5,388.8 689.5,388.8 690.5,388.8 691.5,388.8 692.5,388.8 693.5,388.8 694.5,388.8 695.5,388.8 696.5,388.8 697.0,388.8" fill="none" stroke="none" marker-start="url(#m3)" marker-mid="url(#m3)" marker-end="url(#m3)"/>
<polyline points="130.0,213.5 131.0,213.5 132.0,213.5 133.0,213.5 134.0,213.5 135.0,213.5 136.0,213.5 137.0,213.5 138.0,213.5 139.0,213.5 140.0,213.5 141.0,213.5 142.0,213.5 143.0,213.5 144.0,213.5 145.0,213.6 146.0,213.6 147.0,213.6 148.0,213.6 149.0,213.6 150.0,213.7 151.0,213.7 152.0,213.8 153.0,213.8 154.0,213.8 155.0,213.9 156.0,213.9 157.0,214.0 158.0,214.0 159.0,214.1 160.0,214.1 161.0,214.2 162.0,214.3 163.0,214.3 164.0,214.4 165.0,214.5 166.0,214.6 167.0,214.7 168.0,214.8 168.9,214.9 169.9,215.1 170.9,215.3 171.9,215.4 172.9,215.6 173.9,215.8 174.9,216.0 175.8,216.2 176.8,216.4 177.8,216.6 178.8,216.9 179.7,217.1 180.7,217.4 181.6,217.7 182.6,218.0 183.5,218.3 184.5,218.7 185.4,219.0 186.3,219.4 187.2,219.8 188.1,220.3 189.0,220.7 189.9,221.2 190.8,221.7 191.6,222.2 192.5,222.8 193.3,223.3 194.1,223.9 194.9,224.5 195.7,225.2 196.4,225.8 197.1,226.5 197.9,227.2 198.5,227.9 199.2,228.7 199.9,229.4 200.5,230.2 201.2,230.9 201.8,231.7 202.4,232.5 203.0,233.3 203.6,234.1 204.2,234.9 204.8,235.7 205.4,236.6 205.9,237.4 206.4,238.2 206.9,239.1 207.4,240.0 207.9,240.9 208.4,241.7 208.8,242.6 209.3,243.5 209.7,244.4 210.1,245.4 210.5,246.3 210.9,247.2 211.2,248.1 211.6,249.1 212.0,250.0 212.4,250.9 212.7,251.8 213.0,252.8 213.4,253.7 213.7,254.7 214.0,255.6 214.3,256.6 214.6,257.5 214.9,258.5 215.2,259.4 215.5,260.4 215.8,261.4 216.1,262.3 216.4,263.3 216.7,264.2 216.9,265.2 217.2,266.1 217.5,267.1 217.8,268.1 218.1,269.0 218.4,270.0 218.7,270.9 219.0,271.9 219.3,272.8 219.6,273.8 219.9,274.7 220.2,275.7 220.5,276.7 220.8,277.6 221.1,278.6 221.4,279.5 221.7,280.5 222.0,281.4 222.2,282.4 222.5,283.3 222.8,284.3 223.1,285.3 223.4,286.2 223.7,287.2 224.0,288.1 224.3,289.1 224.6,290.0 224.9,291.0 225.2,291.9 225.5,292.9 225.8,293.9 226.1,294.8 226.4,295.8 226.7,296.7 226.9,297.7 227.2,298.6 227.5,299.6 227.8,300.5 228.1,301.5 228.4,302.5 228.7,303.4 229.0,304.4 229.3,305.3 229.6,306.3 229.9,307.2 230.2,308.2 230.5,309.2 230.8,310.1 231.0,311.1 231.3,312.0 231.6,313.0 231.9,313.9 232.2,314.9 232.5,315.8 232.8,316.8 233.1,317.8 233.4,318.7 233.7,319.7 234.1,320.6 234.4,321.6 234.7,322.5 235.0,323.4 235.4,324.4 235.7,325.3 236.1,326.3 236.4,327.2 236.8,328.1 237.2,329.1 237.5,330.0 237.9,330.9 238.3,331.8 238.7,332.8 239.1,333.7 239.4,334.6 239.8,335.5 240.2,336.4 240.6,337.4 241.0,338.3 241.4,339.2 241.8,340.1 242.2,341.0 242.6,341.9 243.0,342.8 243.4,343.8 243.8,344.7 244.2,345.6 244.6,346.5 245.0,347.5 245.4,348.4 245.8,349.3 246.1,350.2 246.5,351.1 246.9,352.1 247.3,353.0 247.7,353.9 248.1,354.8 248.5,355.7 248.9,356.7 249.3,357.6 249.7,358.5 250.2,359.4 250.6,360.3 251.1,361.2 251.6,362.0 252.1,362.9 252.6,363.7 253.1,364.6 253.7,365.4 254.3,366.2 254.9,367.0 255.6,367.8 256.2,368.5 256.9,369.3 257.6,370.0 258.2,370.8 258.9,371.5 259.6,372.2 260.2,373.0 260.9,373.7 261.6,374.4 262.4,375.1 263.1,375.7 263.9,376.3 264.7,376.9 265.6,377.5 266.4,378.0 267.3,378.5 268.2,378.9 269.1,379.3 270.0,379.7 271.0,380.1 271.9,380.5 272.8,380.8 273.8,381.1 274.7,381.4 275.7,381.7 276.7,382.0 277.6,382.2 278.6,382.4 279.6,382.7 280.5,382.9 281.5,383.1 282.5,383.3 283.5,383.5 284.5,383.7 285.5,383.8 286.4,384.0 287.4,384.1 288.4,384.3 289.4,384.4 290.4,384.5 291.4,384.7 292.4,384.8 293.4,384.9 294.4,385.0 295.4,385.0 296.4,385.1 297.4,385.2 298.4,385.2 299.4,385.3 300.4,385.3 301.4,385.4 302.4,385.4 303.4,385.5 304.4,385.5 305.4,385.5 306.4,385.6 307.4,385.6 308.4,385.6 309.4,385.6 310.4,385.6 311.4,385.7 312.4,385.7 313.4,385.7 314.4,385.7 315.4,385.7 316.4,385.7 317.4,385.8 318.4,385.8 319.4,385.8 320.4,385.8 321.4,385.8 322.4,385.8 323.4,385.8 324.4,385.9 325.4,385.9 326.4,385.9 327.4,385.9 328.4,386.0 329.4,386.0 330.4,386.0 331.4,386.0 332.4,386.1 333.4,386.1 334.4,386.1 335.4,386.1 336.4,386.2 337.4,386.2 338.4,386.2 339.4,386.3 340.4,386.3 341.4,386.3 342.4,386.3 343.4,386.4 344.4,386.4 345.4,386.4 346.4,386.4 347.4,386.5 348.4,386.5 349.4,386.5 350.4,386.5 351.4,386.5 352.4,386.6 353.4,386.6 354.4,386.6 355.4,386.6 356.4,386.7 357.4,386.7 358.4,386.7 359.4,386.7 360.4,386.7 361.4,386.8 362.4,386.8 363.4,386.8 364.4,386.8 365.4,386.8 366.4,386.9 367.4,386.9 368.4,386.9 369.4,386.9 370.4,386.9 371.4,387.0 372.4,387.0 373.4,387.0 374.4,387.0 375.4,387.0 376.4,387.0 377.4,387.1 378.4,387.1 379.4,387.1 380.4,387.1 381.4,387.1 382.4,387.1 383.4,387.2 384.4,387.2 385.4,387.2 386.4,387.2 387.3,387.2 388.3,387.2 389.3,387.3 390.3,387.3 391.3,387.3 392.3,387.3 393.3,387.3 394.3,387.3 395.3,387.3 396.3,387.4 397.3,387.4 398.3,387.4 399.3,387.4 400.3,387.4 401.3,387.4 402.3,387.4 403.3,387.4 404.3,387.5 405.3,387.5 406.3,387.5 407.3,387.5 408.3,387.5 409.3,387.5 410.3,387.5 411.3,387.5 412.3,387.5 413.3,387.6 414.3,387.6 415.3,387.6 416.3,387.6 417.3,387.6 418.3,387.6 419.3,387.6 420.3,387.6 421.3,387.6 422.3,387.6 423.3,387.6 424.3,387.7 425.3,387.7 426.3,387.7 427.3,387.7 428.3,387.7 429.3,387.7 430.3,387.7 431.3,387.7 432.3,387.7 433.3,387.7 434.3,387.7 435.3,387.7 436.3,387.7 437.3,387.7 438.3,387.7 439.3,387.8 440.3,387.8 441.3,387.8 442.3,387.8 443.3,387.8 444.3,387.8 445.3,387.8 446.3,387.8 447.3,387.8 448.3,387.8 449.3,387.8 450.3,387.8 451.3,387.8 452.3,387.8 453.3,387.8 454.3,387.8 455.3,387.8 456.3,387.8 457.3,387.8 458.3,387.9 459.3,387.9 460.3,387.9 461.3,387.9 462.3,387.9 463.3,387.9 464.3,387.9 465.3,387.9 466.3,387.9 467.3,387.9 468.3,387.9 469.3,387.9 470.3,387.9 471.3,387.9 472.3,387.9 473.3,387.9 474.3,387.9 475.3,387.9 476.3,387.9 477.3,387.9 478.3,387.9 479.3,387.9 480.3,387.9 481.3,387.9 482.3,387.9 483.3,387.9 484.3,387.9 485.3,387.9 486.3,388.0 487.3,388.0 488.3,388.0 489.3,388.0 490.3,388.0 491.3,388.0 492.3,388.0 493.3,388.0 494.3,388.0 495.3,388.0 496.3,388.0 497.3,388.0 498.3,388.0 499.3,388.0 500.3,388.0 501.3,388.0 502.3,388.0 503.3,388.0 504.3,388.0 505.3,388.0 506.3,388.0 507.3,388.0 508.3,388.0 509.3,388.0 510.3,388.0 511.3,388.0 512.3,388.0 513.3,388.0 514.3,388.0 515.3,388.0 516.3,388.0 517.3,388.1 518.3,388.1 519.3,388.1 520.3,388.1 521.3,388.1 522.3,388.1 523.3,388.1 524.3,388.1 525.3,388.1 526.3,388.1 527.3,388.1 528.3,388.1 529.3,388.1 530.3,388.1 531.3,388.1 532.3,388.1 533.3,388.1 534.3,388.1 535.3,388.1 536.3,388.1 537.3,388.1 538.3,388.1 539.3,388.1 540.3,388.1 541.3,388.1 542.3,388.1 543.3,388.1 544.3,388.1 545.3,388.1 546.3,388.1 547.3,388.1 548.3,388.1 549.3,388.1 550.3,388.1 551.3,388.1 552.3,388.1 553.3,388.1 554.3,388.1 555.3,388.1 556.3,388.1 557.3,388.1 558.3,388.1 559.3,388.1 560.3,388.1 561.3,388.1 562.3,388.1 563.3,388.1 564.3,388.1 565.3,388.1 566.3,388.1 567.3,388.1 568.3,388.1 569.3,388.1 570.3,388.1 571.3,388.1 572.3,388.1 573.3,388.1 574.3,388.1 575.3,388.1 576.3,388.1 577.3,388.1 578.3,388.1 579.3,388.1 580.3,388.1 581.3,388.1 582.3,388.1 583.3,388.1 584.3,388.1 585.3,388.1 586.3,388.1 587.3,388.1 588.3,388.1 589.3,388.1 590.3,388.1 591.3,388.1 592.3,388.1 593.3,388.1 594.3,388.1 595.3,388.1 596.3,388.1 597.3,388.1 598.3,388.1 599.3,388.1 600.3,388.1 601.3,388.2 602.3,388.2 603.3,388.2 604.3,388.2 605.3,388.2 606.3,388.2 607.3,388.2 608.3,388.2 609.3,388.2 610.3,388.2 611.3,388.2 612.3,388.2 613.3,388.2 614.3,388.2 615.3,388.2 616.3,388.2 617.3,388.2 618.3,388.2 619.3,388.2 620.3,388.2 621.3,388.2 622.3,388.2 623.3,388.2 624.3,388.2 625.3,388.2 626.3,388.2 627.3,388.2 628.3,388.2 629.3,388.2 630.3,388.2 631.3,388.2 632.3,388.2 633.3,388.2 634.3,388.2 635.3,388.2 636.3,388.2 637.3,388.2 638.3,388.2 639.3,388.2 640.3,388.2 641.3,388.2 642.3,388.2 643.3,388.2 644.3,388.2 645.3,388.2 646.3,388.2 647.3,388.2 648.3,388.2 649.3,388.2 650.3,388.2 651.3,388.2 652.3,388.2 653.3,388.2 654.3,388.2 655.3,388.2 656.3,388.2 657.3,388.2 658.3,388.2 659.3,388.2 660.3,388.2 661.3,388.2 662.3,388.2 663.3,388.2 664.3,388.2 665.3,388.2 666.3,388.2 667.3,388.2 668.3,388.2 669.3,388.2 670.3,388.2 671.3,388.2 672.3,388.2 673.3,388.2 674.3,388.2 675.3,388.2 676.3,388.2 677.3,388.2 678.3,388.2 679.3,388.2 680.3,388.2 681.3,388.2 682.3,388.2 683.3,388.2 684.3,388.2 685.3,388.2 686.3,388.2 687.3,388.2 688.3,388.2 689.3,388.2 690.3,388.2 691.3,388.2 692.3,388.2 693.3,388.2 694.3,388.2 694.5,388.2" fill="none" stroke="none" marker-start="url(#m4)" marker-mid="url(#m4)" marker-end="url(#m4)"/>
<path d="M16.1,4.1 L22.7,15.4 L9.5,15.4 Z" fill="#1ef52a"/>
<text x="28.4" y="15.9" font-size="18.0" fill="#262626" text-anchor="start" font-weight="normal" textLength="150.9" lengthAdjust="spacingAndGlyphs" stroke="#262626" stroke-width="0.55">280 50% SPK FF</text>
<path d="M253.6,5.0 L259.2,15.1 L248.1,15.1 Z" fill="none" stroke="#a9d18e" stroke-width="3.4" stroke-linejoin="round"/>
<text x="265.5" y="15.9" font-size="18.0" fill="#262626" text-anchor="start" font-weight="normal" textLength="200.7" lengthAdjust="spacingAndGlyphs" stroke="#262626" stroke-width="0.55">290 PPM 50% SPK FF</text>
<path d="M490.9,5.2 L496.7,13.9 L485.0,13.9 Z" fill="#c5ff00"/>
<text x="502.5" y="15.9" font-size="18.0" fill="#262626" text-anchor="start" font-weight="normal" textLength="171.1" lengthAdjust="spacingAndGlyphs" stroke="#262626" stroke-width="0.55">270 PPM 50% SPK</text>
<path d="M16.1,44.3 L22.7,55.6 L9.5,55.6 Z" fill="#c5ff00"/>
<text x="28.4" y="56.3" font-size="18.0" fill="#262626" text-anchor="start" font-weight="normal" textLength="170.2" lengthAdjust="spacingAndGlyphs" stroke="#262626" stroke-width="0.55">270 PPM 50% SPK</text>
<circle cx="253.8" cy="50" r="5.7" fill="#70ad47"/>
<text x="265.5" y="56.3" font-size="18.0" fill="#262626" text-anchor="start" font-weight="normal" textLength="171.7" lengthAdjust="spacingAndGlyphs" stroke="#262626" stroke-width="0.55">390 PPM 50% SPK</text>
<text x="293.2" y="480.8" font-size="19.0" fill="#404040" text-anchor="start" font-weight="normal" textLength="181.2" lengthAdjust="spacingAndGlyphs">Temperature, T (°C)</text>
<text transform="translate(19.0,257.2) rotate(-90)" x="0" y="0" font-size="18.0" fill="#404040" text-anchor="middle" textLength="254.4" lengthAdjust="spacingAndGlyphs">Pressure differential, ΔP (psig)</text>
<line x1="883.6" y1="29.9" x2="1568.3" y2="29.9" stroke="#d9d9d9" stroke-width="1.8"/>
<line x1="883.6" y1="81.0" x2="1568.3" y2="81.0" stroke="#d9d9d9" stroke-width="1.8"/>
<line x1="883.6" y1="132.2" x2="1568.3" y2="132.2" stroke="#d9d9d9" stroke-width="1.8"/>
<line x1="883.6" y1="183.3" x2="1568.3" y2="183.3" stroke="#d9d9d9" stroke-width="1.8"/>
<line x1="883.6" y1="234.4" x2="1568.3" y2="234.4" stroke="#d9d9d9" stroke-width="1.8"/>
<line x1="883.6" y1="285.5" x2="1568.3" y2="285.5" stroke="#d9d9d9" stroke-width="1.8"/>
<line x1="883.6" y1="336.6" x2="1568.3" y2="336.6" stroke="#d9d9d9" stroke-width="1.8"/>
<line x1="883.6" y1="387.8" x2="1568.3" y2="387.8" stroke="#d9d9d9" stroke-width="1.8"/>
<line x1="883.6" y1="438.9" x2="1568.3" y2="438.9" stroke="#d9d9d9" stroke-width="1.8"/>
<line x1="883.6" y1="29.9" x2="883.6" y2="438.9" stroke="#d9d9d9" stroke-width="2.0"/>
<line x1="981.4" y1="29.9" x2="981.4" y2="438.9" stroke="#d9d9d9" stroke-width="2.0"/>
<line x1="1079.2" y1="29.9" x2="1079.2" y2="438.9" stroke="#d9d9d9" stroke-width="2.0"/>
<line x1="1177.0" y1="29.9" x2="1177.0" y2="438.9" stroke="#d9d9d9" stroke-width="2.0"/>
<line x1="1274.9" y1="29.9" x2="1274.9" y2="438.9" stroke="#d9d9d9" stroke-width="2.0"/>
<line x1="1372.7" y1="29.9" x2="1372.7" y2="438.9" stroke="#d9d9d9" stroke-width="2.0"/>
<line x1="1470.5" y1="29.9" x2="1470.5" y2="438.9" stroke="#d9d9d9" stroke-width="2.0"/>
<line x1="1568.3" y1="29.9" x2="1568.3" y2="438.9" stroke="#d9d9d9" stroke-width="2.0"/>
<line x1="883.6" y1="387.8" x2="1568.3" y2="387.8" stroke="#bfbfbf" stroke-width="1.8"/>
<line x1="1177.0" y1="29.9" x2="1177.0" y2="438.9" stroke="#bfbfbf" stroke-width="1.8"/>
<text x="883.6" y="467.7" font-size="14.5" fill="#404040" text-anchor="middle" font-weight="normal" textLength="29.8" lengthAdjust="spacingAndGlyphs" stroke="#404040" stroke-width="0.25">-30</text>
<text x="981.4" y="466.5" font-size="14.5" fill="#404040" text-anchor="middle" font-weight="normal" textLength="30.0" lengthAdjust="spacingAndGlyphs" stroke="#404040" stroke-width="0.25">-20</text>
<text x="1079.2" y="466.5" font-size="14.5" fill="#404040" text-anchor="middle" font-weight="normal" textLength="28.4" lengthAdjust="spacingAndGlyphs" stroke="#404040" stroke-width="0.25">-10</text>
<text x="1177.0" y="466.5" font-size="14.5" fill="#404040" text-anchor="middle" font-weight="normal" textLength="10.6" lengthAdjust="spacingAndGlyphs" stroke="#404040" stroke-width="0.25">0</text>
<text x="1274.9" y="466.5" font-size="14.5" fill="#404040" text-anchor="middle" font-weight="normal" textLength="20.4" lengthAdjust="spacingAndGlyphs" stroke="#404040" stroke-width="0.25">10</text>
<text x="1372.7" y="466.5" font-size="14.5" fill="#404040" text-anchor="middle" font-weight="normal" textLength="22.0" lengthAdjust="spacingAndGlyphs" stroke="#404040" stroke-width="0.25">20</text>
<text x="1470.5" y="467.7" font-size="14.5" fill="#404040" text-anchor="middle" font-weight="normal" textLength="21.8" lengthAdjust="spacingAndGlyphs" stroke="#404040" stroke-width="0.25">30</text>
<text x="1568.3" y="467.7" font-size="14.5" fill="#404040" text-anchor="middle" font-weight="normal" textLength="22.2" lengthAdjust="spacingAndGlyphs" stroke="#404040" stroke-width="0.25">40</text>
<text x="862.0" y="38.5" font-size="14.5" fill="#404040" text-anchor="end" font-weight="normal" textLength="9.8" lengthAdjust="spacingAndGlyphs" stroke="#404040" stroke-width="0.25">7</text>
<text x="862.0" y="85.6" font-size="14.5" fill="#404040" text-anchor="end" font-weight="normal" textLength="10.2" lengthAdjust="spacingAndGlyphs" stroke="#404040" stroke-width="0.25">6</text>
<text x="862.0" y="140.8" font-size="14.5" fill="#404040" text-anchor="end" font-weight="normal" textLength="10.0" lengthAdjust="spacingAndGlyphs" stroke="#404040" stroke-width="0.25">5</text>
<text x="862.0" y="191.9" font-size="14.5" fill="#404040" text-anchor="end" font-weight="normal" textLength="10.4" lengthAdjust="spacingAndGlyphs" stroke="#404040" stroke-width="0.25">4</text>
<text x="862.0" y="243.0" font-size="14.5" fill="#404040" text-anchor="end" font-weight="normal" textLength="10.0" lengthAdjust="spacingAndGlyphs" stroke="#404040" stroke-width="0.25">3</text>
<text x="862.0" y="291.7" font-size="14.5" fill="#404040" text-anchor="end" font-weight="normal" textLength="10.2" lengthAdjust="spacingAndGlyphs" stroke="#404040" stroke-width="0.25">2</text>
<text x="862.0" y="342.9" font-size="14.5" fill="#404040" text-anchor="end" font-weight="normal" textLength="8.6" lengthAdjust="spacingAndGlyphs" stroke="#404040" stroke-width="0.25">1</text>
<text x="862.0" y="394.0" font-size="14.5" fill="#404040" text-anchor="end" font-weight="normal" textLength="10.6" lengthAdjust="spacingAndGlyphs" stroke="#404040" stroke-width="0.25">0</text>
<text x="862.0" y="445.1" font-size="14.5" fill="#404040" text-anchor="end" font-weight="normal" textLength="16.6" lengthAdjust="spacingAndGlyphs" stroke="#404040" stroke-width="0.25">-1</text>
<polyline points="1026.5,259.2 1027.5,259.2 1028.5,259.2 1029.5,259.2 1030.5,259.2 1031.5,259.2 1032.5,259.2 1033.5,259.2 1034.5,259.2 1035.5,259.2 1036.5,259.2 1037.5,259.2 1038.5,259.2 1039.5,259.2 1040.5,259.2 1041.5,259.2 1042.5,259.2 1043.5,259.2 1044.5,259.2 1045.5,259.2 1046.5,259.2 1047.5,259.2 1048.5,259.2 1049.5,259.2 1050.5,259.2 1051.5,259.2 1052.5,259.2 1053.5,259.2 1054.5,259.2 1055.5,259.2 1056.5,259.2 1057.5,259.2 1058.5,259.2 1059.5,259.2 1060.5,259.2 1061.5,259.2 1062.5,259.2 1063.5,259.2 1064.5,259.2 1065.5,259.2 1066.5,259.2 1067.5,259.2 1068.5,259.2 1069.5,259.3 1070.5,259.3 1071.5,259.3 1072.5,259.3 1073.5,259.4 1074.5,259.4 1075.5,259.5 1076.5,259.5 1077.5,259.6 1078.5,259.7 1079.5,259.8 1080.5,259.9 1081.5,260.1 1082.4,260.3 1083.4,260.5 1084.4,260.7 1085.4,261.0 1086.3,261.3 1087.2,261.6 1088.2,262.1 1089.0,262.5 1089.9,263.1 1090.7,263.6 1091.5,264.2 1092.2,264.9 1093.0,265.6 1093.7,266.2 1094.5,266.9 1095.2,267.6 1095.9,268.3 1096.6,269.1 1097.2,269.8 1097.8,270.6 1098.4,271.4 1098.9,272.3 1099.3,273.2 1099.8,274.1 1100.1,275.0 1100.5,276.0 1100.8,276.9 1101.1,277.9 1101.5,278.8 1101.8,279.8 1102.1,280.7 1102.4,281.6 1102.8,282.6 1103.1,283.5 1103.4,284.5 1103.7,285.4 1104.1,286.4 1104.4,287.3 1104.7,288.3 1104.9,289.2 1105.2,290.2 1105.5,291.2 1105.7,292.1 1106.0,293.1 1106.2,294.1 1106.4,295.1 1106.6,296.0 1106.7,297.0 1106.9,298.0 1107.1,299.0 1107.2,300.0 1107.4,301.0 1107.5,302.0 1107.7,302.9 1107.8,303.9 1108.0,304.9 1108.2,305.9 1108.3,306.9 1108.5,307.9 1108.7,308.9 1108.9,309.8 1109.1,310.8 1109.3,311.8 1109.5,312.8 1109.7,313.8 1110.0,314.7 1110.2,315.7 1110.4,316.7 1110.6,317.7 1110.8,318.6 1111.0,319.6 1111.2,320.6 1111.4,321.6 1111.7,322.5 1111.9,323.5 1112.1,324.5 1112.3,325.5 1112.5,326.5 1112.7,327.4 1112.9,328.4 1113.0,329.4 1113.2,330.4 1113.4,331.4 1113.6,332.4 1113.8,333.3 1113.9,334.3 1114.1,335.3 1114.3,336.3 1114.5,337.3 1114.7,338.3 1114.8,339.2 1115.0,340.2 1115.2,341.2 1115.4,342.2 1115.7,343.2 1115.9,344.1 1116.1,345.1 1116.3,346.1 1116.5,347.1 1116.8,348.0 1117.0,349.0 1117.2,350.0 1117.5,351.0 1117.7,351.9 1117.9,352.9 1118.1,353.9 1118.3,354.9 1118.5,355.8 1118.7,356.8 1118.8,357.8 1119.0,358.8 1119.1,359.8 1119.3,360.8 1119.4,361.8 1119.6,362.8 1119.8,363.7 1119.9,364.7 1120.2,365.7 1120.4,366.7 1120.7,367.6 1121.0,368.6 1121.3,369.5 1121.7,370.5 1122.1,371.4 1122.5,372.3 1122.9,373.2 1123.4,374.1 1123.9,374.9 1124.4,375.8 1125.0,376.6 1125.5,377.4 1126.2,378.2 1126.8,379.0 1127.5,379.7 1128.2,380.4 1129.0,381.1 1129.7,381.7 1130.5,382.3 1131.3,382.9 1132.2,383.5 1133.0,384.0 1133.9,384.5 1134.8,384.9 1135.7,385.3 1136.7,385.6 1137.6,385.9 1138.6,386.2 1139.6,386.4 1140.5,386.6 1141.5,386.7 1142.5,386.9 1143.5,387.0 1144.5,387.1 1145.5,387.3 1146.5,387.4 1147.5,387.5 1148.5,387.6 1149.5,387.6 1150.5,387.7 1151.5,387.7 1152.5,387.8 1153.5,387.8 1154.5,387.9 1155.5,387.9 1156.5,387.9 1157.5,388.0 1158.5,388.0 1159.5,388.0 1160.5,388.0 1161.5,388.0 1162.5,388.1 1163.5,388.1 1164.5,388.1 1165.5,388.1 1166.5,388.1 1167.5,388.1 1168.5,388.1 1169.5,388.1 1170.5,388.1 1171.5,388.1 1172.5,388.1 1173.5,388.1 1174.5,388.1 1175.5,388.1 1176.5,388.1 1177.5,388.1 1178.5,388.0 1179.5,388.0 1180.5,388.0 1181.5,388.0 1182.5,388.0 1183.5,388.0 1184.5,388.0 1185.5,388.0 1186.5,388.0 1187.5,388.0 1188.5,388.0 1189.5,388.0 1190.5,388.0 1191.5,388.0 1192.5,388.0 1193.5,388.0 1194.5,388.0 1195.5,388.0 1196.5,388.0 1197.5,388.0 1198.5,388.0 1199.5,388.0 1200.5,388.0 1201.5,388.0 1202.5,388.0 1203.5,388.0 1204.5,388.0 1205.5,388.0 1206.5,388.0 1207.5,388.0 1208.5,388.0 1209.5,388.1 1210.5,388.1 1211.5,388.1 1212.5,388.1 1213.5,388.1 1214.5,388.1 1215.5,388.1 1216.5,388.1 1217.5,388.1 1218.5,388.1 1219.5,388.1 1220.5,388.1 1221.5,388.1 1222.5,388.1 1223.5,388.1 1224.5,388.1 1225.5,388.1 1226.5,388.1 1227.5,388.1 1228.5,388.1 1229.5,388.1 1230.5,388.1 1231.5,388.1 1232.5,388.1 1233.5,388.1 1234.5,388.1 1235.5,388.1 1236.5,388.1 1237.5,388.1 1238.5,388.1 1239.5,388.1 1240.5,388.1 1241.5,388.1 1242.5,388.1 1243.5,388.1 1244.5,388.1 1245.5,388.1 1246.5,388.1 1247.5,388.1 1248.5,388.1 1249.5,388.1 1250.5,388.1 1251.5,388.1 1252.5,388.1 1253.5,388.1 1254.5,388.1 1255.5,388.1 1256.5,388.1 1257.5,388.1 1258.5,388.1 1259.5,388.1 1260.5,388.1 1261.5,388.1 1262.5,388.1 1263.5,388.0 1264.5,388.0 1265.5,388.0 1266.5,388.0 1267.5,388.0 1268.5,388.0 1269.5,388.0 1270.5,388.0 1271.5,388.0 1272.5,388.0 1273.5,388.0 1274.5,388.0 1275.5,388.0 1276.5,388.0 1277.5,388.0 1278.5,388.0 1279.5,388.0 1280.5,388.0 1281.5,388.0 1282.5,388.0 1283.5,388.0 1284.5,388.0 1285.5,388.0 1286.5,388.0 1287.5,388.0 1288.5,388.0 1289.5,388.0 1290.5,388.0 1291.5,388.0 1292.5,388.0 1293.5,388.0 1294.5,388.0 1295.5,388.0 1296.5,388.0 1297.5,388.0 1298.5,388.0 1299.5,388.0 1300.0,388.0" fill="none" stroke="none" marker-start="url(#m5)" marker-mid="url(#m5)" marker-end="url(#m5)"/>
<polyline points="1005.0,289.2 1006.0,289.2 1007.0,289.2 1008.0,289.2 1009.0,289.2 1010.0,289.2 1011.0,289.2 1012.0,289.2 1013.0,289.2 1014.0,289.2 1015.0,289.2 1016.0,289.2 1017.0,289.2 1018.0,289.2 1019.0,289.2 1020.0,289.2 1021.0,289.2 1022.0,289.2 1023.0,289.2 1024.0,289.2 1025.0,289.2 1026.0,289.2 1027.0,289.2 1028.0,289.2 1029.0,289.2 1030.0,289.2 1031.0,289.2 1032.0,289.3 1033.0,289.3 1034.0,289.3 1035.0,289.3 1036.0,289.3 1037.0,289.3 1038.0,289.3 1039.0,289.3 1040.0,289.3 1041.0,289.3 1042.0,289.3 1043.0,289.3 1044.0,289.3 1045.0,289.3 1046.0,289.4 1047.0,289.4 1048.0,289.4 1049.0,289.4 1050.0,289.4 1051.0,289.4 1052.0,289.4 1053.0,289.4 1054.0,289.4 1055.0,289.5 1056.0,289.5 1057.0,289.5 1058.0,289.5 1059.0,289.6 1060.0,289.6 1061.0,289.6 1062.0,289.7 1063.0,289.8 1064.0,289.8 1065.0,289.9 1066.0,290.0 1067.0,290.1 1068.0,290.1 1069.0,290.1 1070.0,290.2 1071.0,290.3 1072.0,290.5 1072.9,290.7 1073.9,291.0 1074.9,291.2 1075.8,291.5 1076.8,291.9 1077.7,292.3 1078.6,292.7 1079.5,293.2 1080.3,293.7 1081.1,294.3 1081.9,294.9 1082.7,295.5 1083.5,296.1 1084.3,296.8 1085.0,297.4 1085.8,298.0 1086.5,298.7 1087.2,299.5 1087.8,300.3 1088.3,301.1 1088.7,302.0 1089.1,303.0 1089.4,303.9 1089.8,304.9 1090.1,305.8 1090.4,306.7 1090.7,307.7 1091.0,308.7 1091.3,309.6 1091.6,310.6 1091.8,311.5 1092.1,312.5 1092.4,313.5 1092.6,314.4 1092.9,315.4 1093.1,316.4 1093.4,317.3 1093.6,318.3 1093.9,319.3 1094.1,320.2 1094.4,321.2 1094.6,322.2 1094.9,323.1 1095.1,324.1 1095.4,325.1 1095.7,326.0 1096.0,327.0 1096.2,328.0 1096.5,328.9 1096.8,329.9 1097.1,330.8 1097.4,331.8 1097.7,332.7 1098.0,333.7 1098.2,334.7 1098.5,335.6 1098.8,336.6 1099.1,337.5 1099.4,338.5 1099.7,339.5 1100.0,340.4 1100.2,341.4 1100.5,342.3 1100.8,343.3 1101.1,344.2 1101.4,345.2 1101.7,346.2 1102.0,347.1 1102.3,348.1 1102.5,349.0 1102.8,350.0 1103.1,350.9 1103.4,351.9 1103.7,352.9 1104.0,353.8 1104.3,354.8 1104.6,355.7 1104.9,356.7 1105.1,357.6 1105.4,358.6 1105.7,359.6 1106.0,360.5 1106.3,361.5 1106.6,362.4 1107.0,363.4 1107.3,364.3 1107.7,365.2 1108.1,366.1 1108.5,367.0 1109.0,367.9 1109.4,368.8 1109.9,369.7 1110.4,370.6 1110.8,371.5 1111.4,372.3 1111.9,373.2 1112.4,374.0 1113.0,374.9 1113.5,375.7 1114.1,376.5 1114.7,377.3 1115.3,378.1 1116.0,378.8 1116.6,379.6 1117.3,380.3 1118.0,381.1 1118.7,381.7 1119.5,382.4 1120.3,383.0 1121.1,383.6 1122.0,384.1 1122.8,384.6 1123.7,385.0 1124.7,385.4 1125.6,385.8 1126.5,386.1 1127.5,386.4 1128.5,386.6 1129.4,386.9 1130.4,387.1 1131.4,387.3 1132.4,387.4 1133.4,387.5 1134.4,387.6 1135.4,387.7 1136.4,387.8 1137.4,387.8 1138.4,387.8 1139.4,387.9 1140.4,387.9 1141.4,387.9 1142.4,387.9 1143.4,387.9 1144.4,387.9 1145.4,387.9 1146.4,387.9 1147.4,387.9 1148.4,388.0 1149.4,388.0 1150.4,388.0 1151.4,388.0 1152.4,388.1 1153.4,388.1 1154.4,388.1 1155.4,388.1 1156.4,388.1 1157.4,388.1 1158.4,388.2 1159.4,388.2 1160.4,388.2 1161.4,388.2 1162.4,388.2 1163.4,388.2 1164.4,388.2 1165.4,388.2 1166.4,388.2 1167.4,388.2 1168.4,388.3 1169.4,388.3 1170.4,388.3 1171.4,388.3 1172.4,388.3 1173.4,388.3 1174.4,388.3 1175.4,388.3 1176.4,388.3 1177.4,388.3 1178.4,388.3 1179.4,388.3 1180.4,388.3 1181.4,388.3 1182.4,388.3 1183.4,388.3 1184.4,388.3 1185.4,388.3 1186.4,388.3 1187.4,388.3 1188.4,388.3 1189.4,388.3 1190.4,388.3 1191.4,388.3 1192.4,388.3 1193.4,388.3 1194.4,388.3 1195.4,388.3 1196.4,388.3 1197.4,388.3 1198.4,388.3 1199.4,388.3 1200.4,388.3 1201.4,388.3 1202.4,388.3 1203.4,388.3 1204.4,388.3 1205.4,388.3 1206.4,388.3 1207.4,388.3 1208.4,388.3 1209.4,388.3 1210.4,388.3 1211.4,388.3 1212.4,388.3 1213.4,388.3 1214.4,388.3 1215.4,388.3 1216.4,388.3 1217.4,388.3 1218.4,388.3 1219.4,388.3 1220.4,388.3 1221.4,388.3 1222.4,388.3 1223.4,388.3 1224.4,388.3 1225.4,388.3 1226.4,388.3 1227.4,388.3 1228.4,388.3 1229.4,388.3 1230.4,388.3 1231.4,388.3 1232.4,388.3 1233.4,388.2 1234.4,388.2 1235.4,388.2 1236.4,388.2 1237.4,388.2 1238.4,388.2 1239.4,388.2 1240.4,388.2 1241.4,388.2 1242.4,388.2 1243.4,388.2 1244.4,388.2 1245.4,388.2 1246.4,388.2 1247.4,388.2 1248.4,388.2 1249.4,388.2 1250.4,388.2 1251.4,388.2 1252.4,388.2 1253.4,388.2 1254.4,388.2 1255.4,388.2 1256.4,388.2 1257.4,388.2 1258.4,388.2 1259.4,388.2 1260.4,388.2 1261.4,388.2 1262.4,388.2 1263.4,388.2 1264.4,388.2 1265.4,388.2 1266.4,388.1 1267.4,388.1 1268.4,388.1 1269.4,388.1 1270.4,388.1 1271.4,388.1 1272.4,388.1 1273.4,388.1 1274.4,388.1 1275.4,388.1 1276.4,388.1 1277.4,388.1 1278.4,388.1 1279.4,388.1 1280.4,388.1 1281.4,388.1 1282.4,388.1 1283.4,388.1 1284.4,388.1 1285.4,388.1 1286.4,388.1 1287.4,388.1 1288.4,388.1 1289.4,388.1 1290.4,388.1 1291.4,388.1 1292.4,388.1 1293.4,388.1 1294.4,388.1 1295.4,388.1 1296.4,388.1 1297.4,388.1 1298.4,388.1 1299.4,388.1 1300.4,388.1 1301.4,388.1 1302.4,388.1 1303.4,388.1 1304.4,388.1 1305.4,388.1 1306.4,388.1 1307.4,388.1 1308.4,388.1 1309.4,388.1 1310.4,388.1 1311.4,388.1 1312.4,388.1 1313.4,388.1 1314.4,388.1 1315.4,388.1 1316.4,388.1 1317.4,388.1 1318.4,388.1 1319.4,388.1 1320.4,388.1 1321.4,388.1 1322.4,388.1 1323.4,388.1 1324.4,388.1 1325.4,388.1 1326.4,388.1 1327.4,388.1 1328.4,388.1 1329.4,388.1 1330.4,388.1 1331.4,388.1 1332.4,388.1 1333.4,388.1 1334.4,388.1 1335.4,388.1 1336.4,388.1 1337.4,388.1 1338.4,388.1 1339.4,388.1 1340.4,388.1 1341.4,388.1 1342.4,388.1 1343.4,388.1 1344.4,388.1 1345.4,388.1 1346.4,388.1 1347.4,388.1 1348.4,388.1 1349.4,388.1 1350.4,388.1 1351.4,388.1 1352.4,388.1 1353.4,388.1 1354.4,388.1 1355.4,388.1 1356.4,388.1 1357.4,388.1 1358.4,388.1 1359.4,388.1 1360.4,388.1 1361.4,388.1 1362.4,388.1 1363.4,388.1 1364.4,388.1 1365.4,388.1 1366.4,388.1 1367.4,388.1 1368.4,388.1 1369.4,388.1 1370.4,388.1 1371.4,388.1 1372.4,388.1 1373.4,388.1 1374.4,388.1 1375.4,388.1 1376.4,388.1 1377.4,388.1 1378.4,388.1 1379.4,388.1 1380.4,388.1 1381.4,388.1 1382.4,388.1 1383.4,388.1 1384.4,388.1 1385.4,388.1 1386.4,388.1 1387.4,388.1 1388.4,388.1 1389.4,388.1 1390.4,388.1 1391.4,388.1 1392.4,388.1 1393.4,388.1 1394.4,388.1 1395.4,388.1 1396.4,388.1 1397.4,388.1 1398.4,388.1 1399.4,388.1 1400.4,388.1 1401.4,388.1 1402.4,388.1 1403.4,388.1 1404.4,388.1 1405.4,388.1 1406.4,388.1 1407.4,388.1 1408.4,388.1 1409.4,388.1 1410.4,388.1 1411.4,388.1 1412.4,388.1 1413.4,388.1 1414.4,388.1 1415.4,388.1 1416.4,388.1 1417.4,388.1 1418.4,388.1 1419.4,388.1 1420.4,388.1 1421.4,388.1 1422.4,388.1 1423.4,388.1 1424.4,388.1 1425.4,388.1 1426.4,388.1 1427.4,388.1 1428.4,388.1 1429.4,388.1 1430.4,388.1 1431.4,388.1 1432.4,388.1 1433.4,388.1 1434.4,388.1 1435.4,388.1 1436.4,388.1 1437.4,388.1 1438.4,388.1 1439.4,388.1 1440.4,388.1 1441.4,388.1 1442.4,388.1 1443.4,388.1 1444.4,388.1 1445.4,388.1 1446.4,388.1 1447.4,388.1 1448.4,388.1 1449.4,388.1 1450.4,388.1 1451.4,388.1 1452.4,388.1 1453.4,388.1 1454.4,388.1 1455.4,388.1 1456.4,388.1 1457.4,388.1 1458.4,388.1 1459.4,388.1 1460.4,388.1 1461.4,388.1 1462.4,388.1 1463.4,388.1 1464.4,388.1 1465.4,388.1 1466.4,388.1 1467.4,388.1 1468.4,388.1 1469.4,388.1 1470.4,388.1 1471.4,388.1 1472.4,388.1 1473.4,388.1 1474.4,388.1 1475.4,388.1 1476.4,388.1 1477.4,388.1 1478.4,388.1 1479.4,388.1 1480.4,388.1 1481.4,388.1 1482.4,388.1 1483.4,388.1 1484.4,388.1 1485.4,388.1 1486.4,388.1 1487.4,388.1 1488.4,388.1 1489.4,388.1 1490.0,388.1" fill="none" stroke="none" marker-start="url(#m6)" marker-mid="url(#m6)" marker-end="url(#m6)"/>
<path d="M1002.4,2.5 L1009.0,12.6 L995.8,12.6 Z" fill="#ff0000"/>
<text x="1015.3" y="12.0" font-size="14.5" fill="#262626" text-anchor="start" font-weight="normal" textLength="191.7" lengthAdjust="spacingAndGlyphs" stroke="#262626" stroke-width="0.55">230 PPM 50% HEFA</text>
<path d="M1247.4,3.5 L1252.9,11.2 L1241.9,11.2 Z" fill="none" stroke="#c00000" stroke-width="1.8" stroke-linejoin="round"/>
<text x="1260.6" y="12.0" font-size="14.5" fill="#262626" text-anchor="start" font-weight="normal" textLength="191.4" lengthAdjust="spacingAndGlyphs" stroke="#262626" stroke-width="0.55">210 PPM 50% HEFA</text>
<text x="1132.2" y="490.8" font-size="16.0" fill="#404040" text-anchor="start" font-weight="normal" textLength="188.2" lengthAdjust="spacingAndGlyphs">Temperature, T (°C)</text>
<text transform="translate(831.0,234.9) rotate(-90)" x="0" y="0" font-size="19.0" fill="#404040" text-anchor="middle" textLength="204.9" lengthAdjust="spacingAndGlyphs">Pressure differential, ΔP (psig)</text>
<line x1="76.4" y1="556.4" x2="777.6" y2="556.4" stroke="#d9d9d9" stroke-width="1.8"/>
<line x1="76.4" y1="608.5" x2="777.6" y2="608.5" stroke="#d9d9d9" stroke-width="1.8"/>
<line x1="76.4" y1="660.5" x2="777.6" y2="660.5" stroke="#d9d9d9" stroke-width="1.8"/>
<line x1="76.4" y1="712.6" x2="777.6" y2="712.6" stroke="#d9d9d9" stroke-width="1.8"/>
<line x1="76.4" y1="764.7" x2="777.6" y2="764.7" stroke="#d9d9d9" stroke-width="1.8"/>
<line x1="76.4" y1="816.8" x2="777.6" y2="816.8" stroke="#d9d9d9" stroke-width="1.8"/>
<line x1="76.4" y1="868.8" x2="777.6" y2="868.8" stroke="#d9d9d9" stroke-width="1.8"/>
<line x1="76.4" y1="920.9" x2="777.6" y2="920.9" stroke="#d9d9d9" stroke-width="1.8"/>
<line x1="76.4" y1="556.4" x2="76.4" y2="920.9" stroke="#d9d9d9" stroke-width="2.0"/>
<line x1="193.3" y1="556.4" x2="193.3" y2="920.9" stroke="#d9d9d9" stroke-width="2.0"/>
<line x1="310.1" y1="556.4" x2="310.1" y2="920.9" stroke="#d9d9d9" stroke-width="2.0"/>
<line x1="427.0" y1="556.4" x2="427.0" y2="920.9" stroke="#d9d9d9" stroke-width="2.0"/>
<line x1="543.9" y1="556.4" x2="543.9" y2="920.9" stroke="#d9d9d9" stroke-width="2.0"/>
<line x1="660.7" y1="556.4" x2="660.7" y2="920.9" stroke="#d9d9d9" stroke-width="2.0"/>
<line x1="777.6" y1="556.4" x2="777.6" y2="920.9" stroke="#d9d9d9" stroke-width="2.0"/>
<line x1="76.4" y1="920.9" x2="777.6" y2="920.9" stroke="#bfbfbf" stroke-width="1.8"/>
<line x1="427.0" y1="556.4" x2="427.0" y2="920.9" stroke="#bfbfbf" stroke-width="1.8"/>
<text x="76.4" y="952.0" font-size="14.5" fill="#404040" text-anchor="middle" font-weight="normal" textLength="29.8" lengthAdjust="spacingAndGlyphs" stroke="#404040" stroke-width="0.25">-30</text>
<text x="193.3" y="950.8" font-size="14.5" fill="#404040" text-anchor="middle" font-weight="normal" textLength="30.0" lengthAdjust="spacingAndGlyphs" stroke="#404040" stroke-width="0.25">-20</text>
<text x="310.1" y="950.8" font-size="14.5" fill="#404040" text-anchor="middle" font-weight="normal" textLength="28.4" lengthAdjust="spacingAndGlyphs" stroke="#404040" stroke-width="0.25">-10</text>
<text x="427.0" y="950.8" font-size="14.5" fill="#404040" text-anchor="middle" font-weight="normal" textLength="10.6" lengthAdjust="spacingAndGlyphs" stroke="#404040" stroke-width="0.25">0</text>
<text x="543.9" y="950.8" font-size="14.5" fill="#404040" text-anchor="middle" font-weight="normal" textLength="20.4" lengthAdjust="spacingAndGlyphs" stroke="#404040" stroke-width="0.25">10</text>
<text x="660.7" y="950.8" font-size="14.5" fill="#404040" text-anchor="middle" font-weight="normal" textLength="22.0" lengthAdjust="spacingAndGlyphs" stroke="#404040" stroke-width="0.25">20</text>
<text x="777.6" y="952.0" font-size="14.5" fill="#404040" text-anchor="middle" font-weight="normal" textLength="21.8" lengthAdjust="spacingAndGlyphs" stroke="#404040" stroke-width="0.25">30</text>
<text x="55.0" y="565.0" font-size="14.5" fill="#404040" text-anchor="end" font-weight="normal" textLength="9.8" lengthAdjust="spacingAndGlyphs" stroke="#404040" stroke-width="0.25">7</text>
<text x="55.0" y="613.1" font-size="14.5" fill="#404040" text-anchor="end" font-weight="normal" textLength="10.2" lengthAdjust="spacingAndGlyphs" stroke="#404040" stroke-width="0.25">6</text>
<text x="55.0" y="669.2" font-size="14.5" fill="#404040" text-anchor="end" font-weight="normal" textLength="10.0" lengthAdjust="spacingAndGlyphs" stroke="#404040" stroke-width="0.25">5</text>
<text x="55.0" y="721.2" font-size="14.5" fill="#404040" text-anchor="end" font-weight="normal" textLength="10.4" lengthAdjust="spacingAndGlyphs" stroke="#404040" stroke-width="0.25">4</text>
<text x="55.0" y="773.3" font-size="14.5" fill="#404040" text-anchor="end" font-weight="normal" textLength="10.0" lengthAdjust="spacingAndGlyphs" stroke="#404040" stroke-width="0.25">3</text>
<text x="55.0" y="823.0" font-size="14.5" fill="#404040" text-anchor="end" font-weight="normal" textLength="10.2" lengthAdjust="spacingAndGlyphs" stroke="#404040" stroke-width="0.25">2</text>
<text x="55.0" y="875.0" font-size="14.5" fill="#404040" text-anchor="end" font-weight="normal" textLength="8.6" lengthAdjust="spacingAndGlyphs" stroke="#404040" stroke-width="0.25">1</text>
<text x="55.0" y="927.1" font-size="14.5" fill="#404040" text-anchor="end" font-weight="normal" textLength="10.6" lengthAdjust="spacingAndGlyphs" stroke="#404040" stroke-width="0.25">0</text>
<polyline points="211.0,777.0 212.0,777.0 213.0,777.1 214.0,777.1 215.0,777.1 216.0,777.2 217.0,777.2 218.0,777.2 219.0,777.3 220.0,777.3 221.0,777.4 222.0,777.5 223.0,777.6 224.0,777.7 225.0,777.9 226.0,778.0 226.9,778.2 227.9,778.3 228.9,778.5 229.9,778.7 230.9,778.9 231.9,779.1 232.8,779.3 233.8,779.5 234.8,779.7 235.8,779.9 236.7,780.1 237.7,780.4 238.7,780.6 239.7,780.8 240.6,781.1 241.6,781.4 242.5,781.7 243.5,782.1 244.4,782.5 245.3,782.9 246.2,783.3 247.1,783.8 248.0,784.3 248.8,784.8 249.7,785.3 250.5,785.9 251.3,786.5 252.1,787.1 252.9,787.7 253.6,788.4 254.3,789.1 255.0,789.8 255.7,790.5 256.4,791.2 257.0,792.0 257.7,792.7 258.4,793.5 259.0,794.3 259.7,795.0 260.3,795.8 261.0,796.5 261.6,797.3 262.3,798.0 262.9,798.8 263.6,799.6 264.2,800.4 264.8,801.1 265.4,801.9 266.0,802.8 266.6,803.6 267.1,804.4 267.6,805.3 268.1,806.1 268.6,807.0 269.1,807.9 269.5,808.8 270.0,809.7 270.4,810.6 270.8,811.5 271.2,812.4 271.6,813.3 272.1,814.2 272.5,815.1 272.9,816.1 273.3,817.0 273.6,817.9 274.0,818.8 274.4,819.8 274.7,820.7 275.1,821.6 275.4,822.6 275.8,823.5 276.1,824.4 276.5,825.4 276.9,826.3 277.3,827.2 277.6,828.2 278.0,829.1 278.4,830.0 278.8,830.9 279.2,831.9 279.5,832.8 279.9,833.7 280.3,834.6 280.7,835.6 281.0,836.5 281.4,837.4 281.8,838.3 282.2,839.3 282.5,840.2 282.9,841.1 283.2,842.1 283.6,843.0 283.9,843.9 284.3,844.9 284.6,845.8 284.9,846.8 285.2,847.7 285.5,848.7 285.8,849.6 286.1,850.6 286.4,851.5 286.7,852.5 287.0,853.5 287.3,854.4 287.6,855.4 287.9,856.3 288.2,857.3 288.5,858.2 288.7,859.2 289.0,860.2 289.2,861.1 289.5,862.1 289.8,863.1 290.1,864.0 290.4,865.0 290.7,865.9 291.0,866.9 291.3,867.8 291.7,868.8 292.0,869.7 292.4,870.6 292.8,871.5 293.2,872.4 293.6,873.4 294.1,874.3 294.5,875.2 294.9,876.1 295.4,877.0 295.8,877.9 296.3,878.7 296.7,879.6 297.2,880.5 297.6,881.4 298.1,882.3 298.6,883.2 299.1,884.0 299.5,884.9 300.0,885.8 300.5,886.7 301.0,887.5 301.5,888.4 302.0,889.3 302.5,890.1 303.0,891.0 303.5,891.9 304.0,892.7 304.6,893.6 305.1,894.4 305.6,895.3 306.2,896.1 306.7,897.0 307.2,897.8 307.8,898.6 308.3,899.5 308.9,900.3 309.5,901.1 310.0,901.9 310.6,902.8 311.2,903.6 311.7,904.4 312.3,905.2 312.9,906.0 313.5,906.9 314.1,907.7 314.6,908.5 315.2,909.3 315.8,910.1 316.4,910.9 317.0,911.7 317.6,912.5 318.2,913.3 318.9,914.0 319.6,914.7 320.4,915.3 321.2,915.9 322.1,916.5 322.9,917.0 323.8,917.4 324.7,917.9 325.6,918.3 326.6,918.6 327.5,919.0 328.5,919.3 329.4,919.5 330.4,919.7 331.4,919.9 332.4,920.0 333.4,920.1 334.4,920.2 335.4,920.3 336.4,920.4 337.4,920.5 338.4,920.5 339.4,920.6 340.4,920.6 341.4,920.6 342.4,920.7 343.4,920.7 344.4,920.7 345.4,920.7 346.4,920.8 347.4,920.8 348.4,920.8 349.4,920.8 350.4,920.8 351.4,920.8 352.4,920.8 353.4,920.8 354.4,920.8 355.4,920.8 356.4,920.8 357.4,920.8 358.4,920.8 359.4,920.8 360.4,920.8 361.4,920.8 362.4,920.8 363.4,920.7 364.4,920.7 365.4,920.7 366.4,920.7 367.4,920.7 368.4,920.7 369.4,920.7 370.4,920.7 371.4,920.7 372.4,920.7 373.4,920.7 374.4,920.7 375.4,920.6 376.4,920.6 377.4,920.6 378.4,920.6 379.4,920.6 380.4,920.6 381.4,920.6 382.4,920.6 383.4,920.6 384.4,920.6 385.4,920.6 386.4,920.6 387.4,920.6 388.4,920.6 389.4,920.6 390.0,920.6" fill="none" stroke="none" marker-start="url(#m7)" marker-mid="url(#m7)" marker-end="url(#m7)"/>
<polyline points="217.0,668.0 218.0,668.2 219.0,668.4 219.9,668.6 220.9,668.8 221.9,669.0 222.9,669.2 223.8,669.5 224.8,669.9 225.7,670.3 226.6,670.7 227.5,671.1 228.4,671.6 229.3,672.0 230.1,672.5 231.0,673.0 231.9,673.5 232.7,674.0 233.6,674.6 234.4,675.1 235.3,675.7 236.1,676.2 236.9,676.8 237.7,677.4 238.5,678.0 239.3,678.6 240.1,679.3 240.8,679.9 241.5,680.6 242.3,681.3 243.0,682.0 243.7,682.7 244.3,683.4 245.0,684.2 245.7,684.9 246.3,685.7 247.0,686.5 247.6,687.2 248.2,688.0 248.8,688.8 249.5,689.6 250.0,690.4 250.6,691.2 251.2,692.1 251.7,692.9 252.2,693.8 252.7,694.6 253.2,695.5 253.6,696.4 254.1,697.3 254.5,698.2 255.0,699.1 255.4,700.0 255.8,700.9 256.2,701.8 256.7,702.7 257.1,703.6 257.5,704.5 258.0,705.4 258.4,706.3 258.8,707.2 259.3,708.1 259.7,709.0 260.1,709.9 260.5,710.9 260.9,711.8 261.3,712.7 261.6,713.6 262.0,714.6 262.4,715.5 262.7,716.4 263.1,717.4 263.4,718.3 263.7,719.3 264.0,720.2 264.3,721.2 264.7,722.1 265.0,723.1 265.3,724.0 265.6,725.0 265.9,725.9 266.2,726.9 266.5,727.8 266.9,728.8 267.2,729.7 267.5,730.6 267.8,731.6 268.2,732.5 268.5,733.5 268.8,734.4 269.1,735.4 269.4,736.3 269.8,737.3 270.0,738.2 270.3,739.2 270.6,740.1 270.9,741.1 271.1,742.1 271.4,743.0 271.6,744.0 271.8,745.0 272.0,746.0 272.2,747.0 272.4,747.9 272.6,748.9 272.8,749.9 272.9,750.9 273.1,751.9 273.3,752.9 273.4,753.9 273.6,754.8 273.7,755.8 273.9,756.8 274.0,757.8 274.2,758.8 274.4,759.8 274.5,760.8 274.7,761.7 274.9,762.7 275.1,763.7 275.3,764.7 275.5,765.7 275.7,766.7 275.9,767.6 276.1,768.6 276.3,769.6 276.5,770.6 276.7,771.5 276.9,772.5 277.1,773.5 277.4,774.5 277.6,775.4 277.8,776.4 278.0,777.4 278.3,778.4 278.5,779.3 278.7,780.3 278.9,781.3 279.2,782.3 279.4,783.2 279.6,784.2 279.8,785.2 280.1,786.2 280.3,787.1 280.5,788.1 280.7,789.1 280.9,790.1 281.2,791.0 281.4,792.0 281.6,793.0 281.8,794.0 282.0,794.9 282.3,795.9 282.5,796.9 282.7,797.9 282.9,798.8 283.1,799.8 283.4,800.8 283.6,801.8 283.8,802.7 284.0,803.7 284.2,804.7 284.5,805.7 284.7,806.7 284.9,807.6 285.1,808.6 285.3,809.6 285.6,810.6 285.8,811.5 286.0,812.5 286.2,813.5 286.5,814.5 286.7,815.4 286.9,816.4 287.1,817.4 287.4,818.3 287.6,819.3 287.8,820.3 288.0,821.3 288.2,822.2 288.5,823.2 288.7,824.2 288.9,825.2 289.1,826.2 289.3,827.1 289.6,828.1 289.8,829.1 290.0,830.1 290.2,831.0 290.4,832.0 290.7,833.0 290.9,833.9 291.1,834.9 291.4,835.9 291.6,836.9 291.9,837.8 292.1,838.8 292.4,839.8 292.6,840.7 292.9,841.7 293.2,842.7 293.5,843.6 293.8,844.6 294.1,845.5 294.5,846.4 294.8,847.4 295.1,848.3 295.5,849.3 295.8,850.2 296.2,851.1 296.5,852.1 296.9,853.0 297.2,854.0 297.5,854.9 297.8,855.9 298.0,856.8 298.3,857.8 298.5,858.8 298.8,859.8 299.0,860.7 299.2,861.7 299.5,862.7 299.7,863.6 299.9,864.6 300.2,865.6 300.5,866.5 300.8,867.5 301.1,868.4 301.4,869.4 301.8,870.3 302.1,871.3 302.5,872.2 302.9,873.1 303.3,874.0 303.7,875.0 304.1,875.9 304.5,876.8 304.9,877.7 305.3,878.6 305.7,879.5 306.1,880.4 306.6,881.3 307.0,882.2 307.5,883.1 307.9,884.0 308.4,884.9 308.9,885.8 309.3,886.6 309.8,887.5 310.3,888.4 310.8,889.2 311.4,890.1 311.9,890.9 312.4,891.8 313.0,892.6 313.6,893.4 314.1,894.3 314.7,895.1 315.3,895.9 315.9,896.7 316.5,897.5 317.2,898.2 317.8,899.0 318.4,899.8 319.1,900.5 319.8,901.3 320.5,902.0 321.2,902.7 321.9,903.4 322.6,904.1 323.4,904.7 324.1,905.4 324.9,906.1 325.7,906.7 326.4,907.3 327.2,907.9 328.1,908.5 328.9,909.0 329.7,909.6 330.6,910.1 331.4,910.6 332.3,911.1 333.2,911.6 334.1,912.1 335.0,912.5 335.9,912.9 336.8,913.3 337.7,913.7 338.7,914.0 339.6,914.3 340.6,914.7 341.5,915.0 342.5,915.3 343.4,915.5 344.4,915.8 345.3,916.1 346.3,916.4 347.3,916.6 348.2,916.9 349.2,917.1 350.2,917.3 351.2,917.5 352.1,917.7 353.1,917.9 354.1,918.1 355.1,918.3 356.1,918.5 357.1,918.6 358.1,918.7 359.1,918.9 360.0,919.0 361.0,919.1 362.0,919.2 363.0,919.3 364.0,919.4 365.0,919.5 366.0,919.5 367.0,919.6 368.0,919.6 369.0,919.7 370.0,919.7 371.0,919.8 372.0,919.8 373.0,919.8 374.0,919.9 375.0,919.9 376.0,919.9 377.0,920.0 378.0,920.0 379.0,920.0 380.0,920.0 381.0,920.1 382.0,920.1 383.0,920.1 384.0,920.2 385.0,920.2 386.0,920.3 387.0,920.3" fill="none" stroke="none" marker-start="url(#m8)" marker-mid="url(#m8)" marker-end="url(#m8)"/>
<polyline points="233.0,771.5 234.0,771.5 235.0,771.5 236.0,771.5 237.0,771.5 238.0,771.5 239.0,771.5 240.0,771.5 241.0,771.4 242.0,771.4 243.0,771.4 244.0,771.4 245.0,771.4 246.0,771.4 247.0,771.4 248.0,771.4 249.0,771.3 250.0,771.3 251.0,771.3 252.0,771.3 253.0,771.3 254.0,771.3 255.0,771.3 256.0,771.3 257.0,771.3 258.0,771.3 259.0,771.3 260.0,771.3 261.0,771.3 262.0,771.3 263.0,771.3 264.0,771.3 265.0,771.3 266.0,771.3 267.0,771.4 268.0,771.4 269.0,771.4 270.0,771.5 271.0,771.6 272.0,771.6 273.0,771.7 274.0,771.8 275.0,772.0 275.9,772.2 276.9,772.5 277.9,772.8 278.8,773.2 279.7,773.6 280.5,774.1 281.4,774.6 282.2,775.2 283.1,775.8 283.9,776.3 284.7,776.9 285.5,777.5 286.2,778.2 287.0,778.8 287.7,779.5 288.4,780.3 289.0,781.0 289.6,781.8 290.2,782.7 290.6,783.6 291.0,784.5 291.4,785.4 291.8,786.3 292.1,787.3 292.4,788.2 292.7,789.2 293.0,790.2 293.2,791.1 293.5,792.1 293.8,793.0 294.0,794.0 294.2,795.0 294.5,796.0 294.7,796.9 294.9,797.9 295.1,798.9 295.3,799.9 295.5,800.8 295.7,801.8 295.9,802.8 296.1,803.8 296.3,804.8 296.5,805.7 296.7,806.7 296.9,807.7 297.1,808.7 297.3,809.7 297.4,810.7 297.6,811.6 297.8,812.6 298.0,813.6 298.2,814.6 298.4,815.6 298.6,816.5 298.9,817.5 299.1,818.5 299.3,819.5 299.5,820.4 299.7,821.4 299.9,822.4 300.1,823.4 300.3,824.4 300.5,825.3 300.8,826.3 301.0,827.3 301.2,828.3 301.4,829.2 301.6,830.2 301.8,831.2 302.0,832.2 302.2,833.2 302.5,834.1 302.7,835.1 302.9,836.1 303.1,837.1 303.3,838.0 303.5,839.0 303.7,840.0 303.9,841.0 304.1,842.0 304.3,842.9 304.5,843.9 304.7,844.9 304.9,845.9 305.1,846.9 305.3,847.8 305.5,848.8 305.7,849.8 305.9,850.8 306.1,851.8 306.3,852.7 306.5,853.7 306.6,854.7 306.8,855.7 307.0,856.7 307.2,857.7 307.3,858.6 307.5,859.6 307.6,860.6 307.8,861.6 308.0,862.6 308.1,863.6 308.3,864.6 308.5,865.6 308.6,866.5 308.8,867.5 309.0,868.5 309.2,869.5 309.4,870.5 309.6,871.5 309.8,872.4 310.0,873.4 310.1,874.4 310.3,875.4 310.5,876.4 310.7,877.3 310.9,878.3 311.2,879.3 311.4,880.3 311.6,881.2 311.8,882.2 312.0,883.2 312.3,884.2 312.5,885.1 312.7,886.1 313.0,887.1 313.2,888.0 313.5,889.0 313.8,890.0 314.1,890.9 314.4,891.9 314.7,892.8 315.0,893.8 315.3,894.7 315.6,895.7 316.0,896.6 316.3,897.6 316.6,898.5 317.0,899.4 317.4,900.4 317.8,901.3 318.1,902.2 318.6,903.1 319.0,904.0 319.4,904.9 319.9,905.8 320.4,906.7 320.9,907.5 321.4,908.4 321.9,909.2 322.5,910.1 323.1,910.9 323.7,911.7 324.4,912.4 325.1,913.1 325.8,913.8 326.6,914.5 327.3,915.1 328.2,915.7 329.0,916.2 329.8,916.7 330.7,917.2 331.6,917.7 332.5,918.1 333.5,918.4 334.4,918.8 335.3,919.1 336.3,919.4 337.3,919.6 338.3,919.8 339.2,920.0 340.2,920.2 341.2,920.3 342.2,920.4 343.2,920.5 344.2,920.6 345.2,920.7 346.2,920.7 347.2,920.8 348.2,920.9 349.2,920.9 350.2,921.0 351.2,921.1 352.2,921.1 353.2,921.2 354.2,921.2 355.2,921.3 356.2,921.3 357.2,921.3 358.2,921.3 359.2,921.4 360.2,921.4 361.2,921.4 362.2,921.4 363.2,921.4 364.2,921.4 365.2,921.4 366.2,921.4 367.2,921.4 368.2,921.4 369.2,921.4 370.2,921.4 371.2,921.4 372.2,921.4 373.2,921.4 374.2,921.4 375.2,921.3 376.2,921.3 377.2,921.3 378.2,921.3 379.2,921.3 380.2,921.3 381.2,921.3 382.2,921.3 383.2,921.3 384.2,921.3 385.2,921.2 386.2,921.2 387.2,921.2 388.2,921.2 389.2,921.2 390.2,921.2 391.2,921.2 392.2,921.2 393.2,921.2 394.2,921.2 395.2,921.2 396.2,921.2 397.2,921.2 398.2,921.2 399.2,921.2 400.2,921.2 401.2,921.2 402.2,921.2 403.2,921.2 404.2,921.2 405.2,921.2 406.2,921.2 407.2,921.2 408.2,921.2 409.2,921.2 410.2,921.2 411.2,921.2 412.2,921.2 413.2,921.2 414.2,921.2 415.2,921.2 416.2,921.2 417.2,921.2 418.2,921.2 419.2,921.2 420.2,921.2 421.2,921.2 422.2,921.2 423.2,921.2 424.2,921.2 425.2,921.2 426.2,921.2 427.2,921.2 428.2,921.2 429.2,921.2 430.2,921.2 431.2,921.2 432.2,921.2 433.2,921.2 434.2,921.2 435.2,921.2 436.2,921.2 437.2,921.2 438.2,921.2 439.2,921.2 440.2,921.2 441.2,921.2 442.2,921.2 443.2,921.2 444.2,921.2 445.2,921.2 446.2,921.2 447.2,921.2 448.2,921.2 449.2,921.2 450.2,921.2 451.2,921.2 452.2,921.2 453.2,921.2 454.2,921.3 455.2,921.3 456.2,921.3 457.2,921.3 458.2,921.3 459.2,921.3 460.2,921.3 461.2,921.3 462.2,921.3 463.2,921.3 464.2,921.3 465.2,921.3 466.2,921.3 467.2,921.3 468.2,921.3 469.2,921.3 470.2,921.3 471.2,921.3 472.2,921.3 473.2,921.3 474.2,921.3 475.2,921.3 476.2,921.3 477.2,921.3 478.2,921.3 479.2,921.3 480.2,921.3 481.2,921.3 482.2,921.3 483.2,921.3 484.2,921.3 485.2,921.3 486.2,921.3 487.2,921.3 488.2,921.3 489.2,921.3 490.2,921.3 491.2,921.3 492.2,921.3 493.2,921.3 494.2,921.3 495.2,921.3 496.2,921.3 497.2,921.3 498.2,921.3 499.2,921.3 500.2,921.3 501.2,921.3 502.2,921.3 503.2,921.3 504.2,921.3 505.2,921.3 506.2,921.3 507.2,921.3 508.2,921.3 509.2,921.3 510.2,921.3 511.2,921.3 512.2,921.3 513.2,921.3 514.2,921.3 515.2,921.3 516.2,921.3 517.2,921.3 518.2,921.3 519.2,921.3 520.2,921.3 521.2,921.3 522.2,921.3 523.2,921.3 524.2,921.3 525.2,921.3 526.2,921.3 527.2,921.3 528.2,921.3 529.2,921.3 530.2,921.3 531.2,921.3 532.2,921.3 533.2,921.3 534.2,921.3 535.2,921.3 536.2,921.3 537.2,921.3 538.2,921.3 539.2,921.3 540.2,921.3 541.2,921.2 542.2,921.2 543.2,921.2 544.2,921.2 545.2,921.2 546.2,921.2 547.2,921.2 548.2,921.2 549.2,921.2 550.2,921.2 551.2,921.2 552.2,921.2 553.2,921.2 554.2,921.2 555.2,921.2 556.2,921.2 557.2,921.2 558.2,921.2 559.2,921.2 560.2,921.2 561.2,921.2 562.2,921.2 563.2,921.2 564.2,921.2 565.2,921.2 566.2,921.2 567.2,921.2 568.2,921.2 569.2,921.2 570.2,921.2 571.2,921.2 572.2,921.2 573.2,921.2 574.2,921.2 575.2,921.2 576.2,921.2 577.2,921.2 578.2,921.2 579.2,921.2 580.2,921.2 581.2,921.2 582.2,921.2 583.2,921.2 584.2,921.2 585.2,921.2 586.2,921.2 587.2,921.2 588.2,921.2 589.2,921.2 590.2,921.2 591.2,921.2 592.2,921.2 593.2,921.2 594.2,921.2 595.2,921.2 596.2,921.2 597.2,921.2 598.2,921.2 599.2,921.2 600.2,921.2 601.2,921.2 602.2,921.2 603.2,921.2 604.2,921.2 605.2,921.2 606.2,921.2 607.2,921.2 608.2,921.2 609.2,921.2 610.2,921.2 611.2,921.2 612.2,921.2 613.2,921.2 614.2,921.2 615.2,921.2 616.2,921.2 617.2,921.2 618.2,921.2 619.2,921.2 620.2,921.2 621.2,921.2 622.2,921.2 623.2,921.2 624.2,921.2 625.2,921.2 626.2,921.2 627.2,921.2 628.2,921.2 629.2,921.2 630.2,921.2 631.2,921.2 632.2,921.2 633.2,921.2 634.2,921.2 635.2,921.2 636.2,921.2 637.2,921.2 638.2,921.2 639.2,921.2 640.2,921.2 641.2,921.2 642.2,921.2 643.2,921.2 644.2,921.2 645.2,921.2 646.2,921.2 647.2,921.2 648.2,921.2 649.2,921.2 650.2,921.2 651.2,921.2 652.2,921.2 653.2,921.2 654.2,921.2 655.2,921.2 656.2,921.2 657.2,921.2 658.2,921.2 659.2,921.2 660.2,921.2 661.2,921.2 662.2,921.2 663.2,921.2 664.2,921.2 665.2,921.2 666.2,921.2 667.2,921.2 668.2,921.2 669.2,921.2 670.2,921.2 671.2,921.2 672.2,921.2 673.2,921.2 674.2,921.2 675.2,921.2 676.2,921.2 677.2,921.2 678.2,921.2 679.2,921.2 680.2,921.2 681.2,921.2 682.2,921.2 683.2,921.2 684.2,921.2 685.2,921.2 686.2,921.2 687.2,921.2 688.2,921.2 689.2,921.2 690.2,921.2 691.2,921.2 692.2,921.2 693.2,921.2 694.2,921.2 695.2,921.2 696.2,921.2 697.2,921.2 698.2,921.2 699.2,921.2 700.2,921.2 701.2,921.2 702.2,921.2 703.2,921.2 704.2,921.2 705.2,921.2 706.2,921.2 707.2,921.2 708.2,921.2 709.2,921.2 710.2,921.2 711.2,921.2 712.2,921.2 713.2,921.2 714.2,921.2 715.2,921.2 716.2,921.2 717.2,921.2 718.2,921.2 719.2,921.2 720.2,921.2 721.2,921.2 722.2,921.2 723.2,921.2 724.2,921.2 725.2,921.2 726.2,921.2 727.2,921.2 728.2,921.2 729.2,921.2 730.2,921.2 731.2,921.2 732.2,921.2 733.2,921.2 734.2,921.2 735.2,921.2 736.2,921.2 737.2,921.2 738.2,921.2 739.2,921.2 740.2,921.2 741.2,921.2 742.2,921.2 743.0,921.2" fill="none" stroke="none" marker-start="url(#m9)" marker-mid="url(#m9)" marker-end="url(#m9)"/>
<rect x="119.5" y="528.6" width="11.4" height="3.9" fill="#1ef52a"/>
<text x="137.1" y="536.2" font-size="17.0" fill="#262626" text-anchor="start" font-weight="normal" textLength="168.6" lengthAdjust="spacingAndGlyphs" stroke="#262626" stroke-width="0.55">260 PPM 25% SPK</text>
<rect x="332.2" y="528.6" width="10.0" height="3.9" fill="#00b050"/>
<text x="349.7" y="536.2" font-size="17.0" fill="#262626" text-anchor="start" font-weight="normal" textLength="187.3" lengthAdjust="spacingAndGlyphs" stroke="#262626" stroke-width="0.55">290 PPM 25% SPK ff</text>
<rect x="557.8" y="528.6" width="10.4" height="3.9" fill="#c5ff00"/>
<text x="575.2" y="536.2" font-size="17.0" fill="#262626" text-anchor="start" font-weight="normal" textLength="167.8" lengthAdjust="spacingAndGlyphs" stroke="#262626" stroke-width="0.55">260 PPM 25% SPK</text>
<text x="338.2" y="970.2" font-size="16.2" fill="#404040" text-anchor="start" font-weight="normal" textLength="177.8" lengthAdjust="spacingAndGlyphs">Temperature, T (°C)</text>
<text transform="translate(22.0,737.7) rotate(-90)" x="0" y="0" font-size="17.6" fill="#404040" text-anchor="middle" textLength="231.9" lengthAdjust="spacingAndGlyphs">Pressure differential, ΔP (psig)</text>
<line x1="884.8" y1="569.8" x2="1575.9" y2="569.8" stroke="#d9d9d9" stroke-width="1.8"/>
<line x1="884.8" y1="611.1" x2="1575.9" y2="611.1" stroke="#d9d9d9" stroke-width="1.8"/>
<line x1="884.8" y1="652.4" x2="1575.9" y2="652.4" stroke="#d9d9d9" stroke-width="1.8"/>
<line x1="884.8" y1="693.7" x2="1575.9" y2="693.7" stroke="#d9d9d9" stroke-width="1.8"/>
<line x1="884.8" y1="735.0" x2="1575.9" y2="735.0" stroke="#d9d9d9" stroke-width="1.8"/>
<line x1="884.8" y1="776.3" x2="1575.9" y2="776.3" stroke="#d9d9d9" stroke-width="1.8"/>
<line x1="884.8" y1="817.6" x2="1575.9" y2="817.6" stroke="#d9d9d9" stroke-width="1.8"/>
<line x1="884.8" y1="858.9" x2="1575.9" y2="858.9" stroke="#d9d9d9" stroke-width="1.8"/>
<line x1="884.8" y1="900.2" x2="1575.9" y2="900.2" stroke="#d9d9d9" stroke-width="1.8"/>
<line x1="884.8" y1="569.8" x2="884.8" y2="900.2" stroke="#d9d9d9" stroke-width="2.0"/>
<line x1="983.5" y1="569.8" x2="983.5" y2="900.2" stroke="#d9d9d9" stroke-width="2.0"/>
<line x1="1082.3" y1="569.8" x2="1082.3" y2="900.2" stroke="#d9d9d9" stroke-width="2.0"/>
<line x1="1181.0" y1="569.8" x2="1181.0" y2="900.2" stroke="#d9d9d9" stroke-width="2.0"/>
<line x1="1279.7" y1="569.8" x2="1279.7" y2="900.2" stroke="#d9d9d9" stroke-width="2.0"/>
<line x1="1378.4" y1="569.8" x2="1378.4" y2="900.2" stroke="#d9d9d9" stroke-width="2.0"/>
<line x1="1477.2" y1="569.8" x2="1477.2" y2="900.2" stroke="#d9d9d9" stroke-width="2.0"/>
<line x1="1575.9" y1="569.8" x2="1575.9" y2="900.2" stroke="#d9d9d9" stroke-width="2.0"/>
<line x1="884.8" y1="858.9" x2="1575.9" y2="858.9" stroke="#bfbfbf" stroke-width="1.8"/>
<line x1="1279.7" y1="569.8" x2="1279.7" y2="900.2" stroke="#bfbfbf" stroke-width="1.8"/>
<text x="884.8" y="930.5" font-size="14.5" fill="#404040" text-anchor="middle" font-weight="normal" textLength="30.0" lengthAdjust="spacingAndGlyphs" stroke="#404040" stroke-width="0.25">-20</text>
<text x="983.5" y="931.7" font-size="14.5" fill="#404040" text-anchor="middle" font-weight="normal" textLength="27.8" lengthAdjust="spacingAndGlyphs" stroke="#404040" stroke-width="0.25">-15</text>
<text x="1082.3" y="930.5" font-size="14.5" fill="#404040" text-anchor="middle" font-weight="normal" textLength="28.4" lengthAdjust="spacingAndGlyphs" stroke="#404040" stroke-width="0.25">-10</text>
<text x="1181.0" y="932.9" font-size="14.5" fill="#404040" text-anchor="middle" font-weight="normal" textLength="18.0" lengthAdjust="spacingAndGlyphs" stroke="#404040" stroke-width="0.25">-5</text>
<text x="1279.7" y="930.5" font-size="14.5" fill="#404040" text-anchor="middle" font-weight="normal" textLength="10.6" lengthAdjust="spacingAndGlyphs" stroke="#404040" stroke-width="0.25">0</text>
<text x="1378.4" y="932.9" font-size="14.5" fill="#404040" text-anchor="middle" font-weight="normal" textLength="10.0" lengthAdjust="spacingAndGlyphs" stroke="#404040" stroke-width="0.25">5</text>
<text x="1477.2" y="930.5" font-size="14.5" fill="#404040" text-anchor="middle" font-weight="normal" textLength="20.4" lengthAdjust="spacingAndGlyphs" stroke="#404040" stroke-width="0.25">10</text>
<text x="1575.9" y="931.7" font-size="14.5" fill="#404040" text-anchor="middle" font-weight="normal" textLength="19.8" lengthAdjust="spacingAndGlyphs" stroke="#404040" stroke-width="0.25">15</text>
<text x="864.5" y="578.4" font-size="14.5" fill="#404040" text-anchor="end" font-weight="normal" textLength="9.8" lengthAdjust="spacingAndGlyphs" stroke="#404040" stroke-width="0.25">7</text>
<text x="864.5" y="615.7" font-size="14.5" fill="#404040" text-anchor="end" font-weight="normal" textLength="10.2" lengthAdjust="spacingAndGlyphs" stroke="#404040" stroke-width="0.25">6</text>
<text x="864.5" y="661.0" font-size="14.5" fill="#404040" text-anchor="end" font-weight="normal" textLength="10.0" lengthAdjust="spacingAndGlyphs" stroke="#404040" stroke-width="0.25">5</text>
<text x="864.5" y="702.3" font-size="14.5" fill="#404040" text-anchor="end" font-weight="normal" textLength="10.4" lengthAdjust="spacingAndGlyphs" stroke="#404040" stroke-width="0.25">4</text>
<text x="864.5" y="743.6" font-size="14.5" fill="#404040" text-anchor="end" font-weight="normal" textLength="10.0" lengthAdjust="spacingAndGlyphs" stroke="#404040" stroke-width="0.25">3</text>
<text x="864.5" y="782.5" font-size="14.5" fill="#404040" text-anchor="end" font-weight="normal" textLength="10.2" lengthAdjust="spacingAndGlyphs" stroke="#404040" stroke-width="0.25">2</text>
<text x="864.5" y="823.8" font-size="14.5" fill="#404040" text-anchor="end" font-weight="normal" textLength="8.6" lengthAdjust="spacingAndGlyphs" stroke="#404040" stroke-width="0.25">1</text>
<text x="864.5" y="865.1" font-size="14.5" fill="#404040" text-anchor="end" font-weight="normal" textLength="10.6" lengthAdjust="spacingAndGlyphs" stroke="#404040" stroke-width="0.25">0</text>
<text x="864.5" y="906.4" font-size="14.5" fill="#404040" text-anchor="end" font-weight="normal" textLength="16.6" lengthAdjust="spacingAndGlyphs" stroke="#404040" stroke-width="0.25">-1</text>
<polyline points="959.0,744.3 960.0,744.3 961.0,744.3 962.0,744.3 963.0,744.3 964.0,744.3 965.0,744.3 966.0,744.3 967.0,744.3 968.0,744.3 969.0,744.3 970.0,744.3 971.0,744.3 972.0,744.3 973.0,744.3 974.0,744.3 975.0,744.3 976.0,744.3 977.0,744.3 978.0,744.3 979.0,744.3 980.0,744.3 981.0,744.3 982.0,744.3 983.0,744.3 984.0,744.3 985.0,744.3 986.0,744.3 987.0,744.3 988.0,744.3 989.0,744.3 990.0,744.3 991.0,744.3 992.0,744.3 993.0,744.3 994.0,744.3 995.0,744.3 996.0,744.3 997.0,744.3 998.0,744.3 999.0,744.3 1000.0,744.3 1001.0,744.3 1002.0,744.3 1003.0,744.3 1004.0,744.3 1005.0,744.3 1006.0,744.3 1007.0,744.3 1008.0,744.3 1009.0,744.3 1010.0,744.3 1011.0,744.3 1012.0,744.3 1013.0,744.3 1014.0,744.3 1015.0,744.3 1016.0,744.3 1017.0,744.3 1018.0,744.3 1019.0,744.3 1020.0,744.3 1021.0,744.3 1022.0,744.3 1023.0,744.3 1024.0,744.3 1025.0,744.3 1026.0,744.3 1027.0,744.3 1028.0,744.3 1029.0,744.3 1030.0,744.3 1031.0,744.3 1032.0,744.3 1033.0,744.3 1034.0,744.3 1035.0,744.3 1036.0,744.3 1037.0,744.3 1038.0,744.3 1039.0,744.3 1040.0,744.3 1041.0,744.3 1042.0,744.3 1043.0,744.3 1044.0,744.3 1045.0,744.3 1046.0,744.3 1047.0,744.3 1048.0,744.3 1049.0,744.3 1050.0,744.3 1051.0,744.3 1052.0,744.4 1053.0,744.4 1054.0,744.4 1055.0,744.4 1056.0,744.4 1057.0,744.4 1058.0,744.4 1059.0,744.4 1060.0,744.4 1061.0,744.4 1062.0,744.4 1063.0,744.4 1064.0,744.4 1065.0,744.4 1066.0,744.4 1067.0,744.5 1068.0,744.5 1069.0,744.5 1070.0,744.5 1071.0,744.6 1072.0,744.6 1073.0,744.7 1074.0,744.7 1075.0,744.8 1076.0,744.9 1077.0,744.9 1078.0,745.0 1079.0,745.2 1080.0,745.3 1081.0,745.4 1081.9,745.6 1082.9,745.8 1083.9,745.9 1084.9,746.1 1085.9,746.3 1086.9,746.5 1087.8,746.7 1088.8,746.9 1089.8,747.2 1090.8,747.4 1091.7,747.6 1092.7,747.8 1093.7,748.1 1094.6,748.3 1095.6,748.6 1096.6,748.9 1097.5,749.2 1098.5,749.5 1099.4,749.8 1100.4,750.1 1101.3,750.5 1102.2,750.8 1103.2,751.2 1104.1,751.6 1105.0,752.0 1105.9,752.4 1106.8,752.8 1107.7,753.3 1108.6,753.8 1109.4,754.3 1110.3,754.8 1111.1,755.4 1111.9,756.1 1112.6,756.7 1113.3,757.4 1114.0,758.2 1114.6,758.9 1115.3,759.7 1115.9,760.5 1116.5,761.3 1117.1,762.1 1117.7,762.9 1118.3,763.7 1118.9,764.5 1119.4,765.3 1120.0,766.2 1120.5,767.0 1121.1,767.8 1121.6,768.7 1122.1,769.5 1122.6,770.4 1123.1,771.3 1123.6,772.1 1124.1,773.0 1124.6,773.9 1125.1,774.8 1125.5,775.7 1126.0,776.5 1126.4,777.4 1126.9,778.3 1127.3,779.3 1127.7,780.2 1128.1,781.1 1128.5,782.0 1128.9,782.9 1129.3,783.8 1129.6,784.8 1130.0,785.7 1130.4,786.6 1130.8,787.5 1131.2,788.5 1131.6,789.4 1132.0,790.3 1132.4,791.2 1132.8,792.1 1133.1,793.1 1133.5,794.0 1133.9,794.9 1134.3,795.8 1134.7,796.8 1135.1,797.7 1135.4,798.6 1135.8,799.5 1136.2,800.5 1136.6,801.4 1136.9,802.3 1137.3,803.2 1137.7,804.2 1138.0,805.1 1138.4,806.0 1138.7,807.0 1139.1,807.9 1139.5,808.8 1139.8,809.8 1140.2,810.7 1140.6,811.6 1141.0,812.5 1141.3,813.5 1141.7,814.4 1142.1,815.3 1142.5,816.2 1142.9,817.1 1143.3,818.1 1143.7,819.0 1144.1,819.9 1144.5,820.8 1144.9,821.7 1145.3,822.7 1145.7,823.6 1146.1,824.5 1146.5,825.4 1147.0,826.3 1147.4,827.2 1147.9,828.1 1148.4,828.9 1148.9,829.8 1149.4,830.7 1149.9,831.5 1150.4,832.4 1151.0,833.2 1151.5,834.0 1152.1,834.9 1152.7,835.7 1153.2,836.5 1153.8,837.3 1154.5,838.1 1155.1,838.9 1155.7,839.6 1156.4,840.4 1157.1,841.1 1157.8,841.8 1158.5,842.5 1159.3,843.2 1160.0,843.8 1160.8,844.4 1161.6,845.1 1162.4,845.6 1163.2,846.2 1164.1,846.8 1164.9,847.3 1165.8,847.8 1166.6,848.3 1167.5,848.8 1168.4,849.2 1169.3,849.7 1170.2,850.1 1171.1,850.5 1172.1,850.9 1173.0,851.2 1173.9,851.6 1174.9,851.9 1175.8,852.2 1176.8,852.5 1177.7,852.8 1178.7,853.1 1179.7,853.3 1180.6,853.6 1181.6,853.8 1182.6,854.0 1183.6,854.3 1184.5,854.5 1185.5,854.7 1186.5,854.9 1187.5,855.1 1188.5,855.2 1189.4,855.4 1190.4,855.6 1191.4,855.7 1192.4,855.9 1193.4,856.0 1194.4,856.1 1195.4,856.2 1196.4,856.3 1197.4,856.4 1198.4,856.5 1199.4,856.6 1200.4,856.6 1201.4,856.7 1202.4,856.8 1203.4,856.8 1204.4,856.9 1205.4,856.9 1206.4,856.9 1207.4,857.0 1208.4,857.0 1209.4,857.1 1210.4,857.1 1211.4,857.1 1212.4,857.2 1213.4,857.2 1214.4,857.3 1215.4,857.3 1216.4,857.3 1217.4,857.4 1218.3,857.4 1219.3,857.5 1220.3,857.5 1221.3,857.6 1222.3,857.6 1223.3,857.7 1224.3,857.7 1225.3,857.8 1226.3,857.8 1227.3,857.9 1228.3,857.9 1229.3,858.0 1230.3,858.0 1231.3,858.1 1232.3,858.1 1233.3,858.2 1234.3,858.2 1235.3,858.3 1236.3,858.3 1237.3,858.3 1238.3,858.4 1239.3,858.4 1240.3,858.5 1241.3,858.5 1242.3,858.5 1243.3,858.6 1244.3,858.6 1245.3,858.6 1246.3,858.7 1247.3,858.7 1248.3,858.7 1249.3,858.8 1250.3,858.8 1251.3,858.8 1252.3,858.8 1253.3,858.9 1254.3,858.9 1255.3,858.9 1256.3,858.9 1257.3,858.9 1258.3,859.0 1259.3,859.0 1260.3,859.0 1261.3,859.0 1262.3,859.0 1263.3,859.1 1264.3,859.1 1265.3,859.1 1266.3,859.1 1267.3,859.1 1268.3,859.1 1269.3,859.1 1270.3,859.1 1271.3,859.2 1272.3,859.2 1273.3,859.2 1274.3,859.2 1275.3,859.2 1276.3,859.2 1277.3,859.2 1278.3,859.2 1279.3,859.2 1280.3,859.2 1281.3,859.2 1282.3,859.2 1283.3,859.2 1284.3,859.3 1285.3,859.3 1286.3,859.3 1287.3,859.3 1288.3,859.3 1289.3,859.3 1290.3,859.3 1291.3,859.3 1292.3,859.3 1293.3,859.3 1294.3,859.3 1295.3,859.3 1296.3,859.3 1297.3,859.3 1298.3,859.3 1299.3,859.3 1300.3,859.3 1301.3,859.3 1302.3,859.3 1303.3,859.3 1304.3,859.3 1305.3,859.3 1306.3,859.3 1307.3,859.3 1308.3,859.3 1309.3,859.3 1310.3,859.3 1311.3,859.3 1312.3,859.3 1313.3,859.3 1314.3,859.3 1315.3,859.3 1316.3,859.3 1317.3,859.3 1318.3,859.3 1319.3,859.3 1320.3,859.3 1321.3,859.3 1322.3,859.3 1323.3,859.3 1324.3,859.3 1325.3,859.3 1326.3,859.3 1327.3,859.3 1328.3,859.3 1329.3,859.3 1330.3,859.3 1331.3,859.3 1332.3,859.3 1333.3,859.3 1334.3,859.3 1335.3,859.3 1336.3,859.3 1337.3,859.3 1338.3,859.3 1339.3,859.3 1340.3,859.3 1341.3,859.3 1342.3,859.2 1343.3,859.2 1344.3,859.2 1345.3,859.2 1346.3,859.2 1347.3,859.2 1348.3,859.2 1349.3,859.2 1350.3,859.2 1351.3,859.2 1352.3,859.2 1353.3,859.2 1354.3,859.2 1355.3,859.2 1356.3,859.2 1357.3,859.2 1358.3,859.2 1359.3,859.2 1360.3,859.2 1361.3,859.2 1362.3,859.2 1363.3,859.2 1364.3,859.2 1365.3,859.2 1366.3,859.2 1367.3,859.2 1368.3,859.2 1369.3,859.2 1370.3,859.2 1371.3,859.1 1372.3,859.1 1373.3,859.1 1374.3,859.1 1375.3,859.1 1376.3,859.1 1377.3,859.1 1378.3,859.1 1379.3,859.1 1380.3,859.1 1381.3,859.1 1382.3,859.1 1383.3,859.1 1384.3,859.1 1385.3,859.1 1386.3,859.1 1387.3,859.1 1388.3,859.1 1389.3,859.1 1390.3,859.1 1391.3,859.1 1392.3,859.1 1393.3,859.1 1394.3,859.1 1395.3,859.1 1396.3,859.1 1397.3,859.1 1398.3,859.1 1399.3,859.1 1400.3,859.1 1401.3,859.0 1402.3,859.0 1403.3,859.0 1404.3,859.0 1405.3,859.0 1406.3,859.0 1407.3,859.0 1408.3,859.0 1409.3,859.0 1410.3,859.0 1411.3,859.0 1412.3,859.0 1413.3,859.0 1414.3,859.0 1415.3,859.0 1416.3,859.0 1417.3,859.0 1418.3,859.0 1419.3,859.0 1420.3,859.0 1421.3,859.0 1422.3,859.0 1423.3,859.0 1424.3,859.0 1425.3,859.0 1426.3,859.0 1427.3,859.0 1428.3,859.0 1429.3,859.0 1430.3,859.0 1431.0,859.0" fill="none" stroke="none" marker-start="url(#m10)" marker-mid="url(#m10)" marker-end="url(#m10)"/>
<polyline points="975.0,737.7 976.0,737.7 977.0,737.7 978.0,737.7 979.0,737.7 980.0,737.7 981.0,737.7 982.0,737.7 983.0,737.7 984.0,737.7 985.0,737.7 986.0,737.7 987.0,737.7 988.0,737.7 989.0,737.7 990.0,737.7 991.0,737.7 992.0,737.7 993.0,737.7 994.0,737.7 995.0,737.7 996.0,737.7 997.0,737.7 998.0,737.7 999.0,737.7 1000.0,737.7 1001.0,737.7 1002.0,737.7 1003.0,737.7 1004.0,737.7 1005.0,737.7 1006.0,737.7 1007.0,737.7 1008.0,737.7 1009.0,737.7 1010.0,737.7 1011.0,737.7 1012.0,737.7 1013.0,737.7 1014.0,737.7 1015.0,737.7 1016.0,737.7 1017.0,737.7 1018.0,737.7 1019.0,737.7 1020.0,737.7 1021.0,737.7 1022.0,737.7 1023.0,737.7 1024.0,737.7 1025.0,737.7 1026.0,737.7 1027.0,737.7 1028.0,737.7 1029.0,737.7 1030.0,737.7 1031.0,737.7 1032.0,737.7 1033.0,737.7 1034.0,737.7 1035.0,737.7 1036.0,737.7 1037.0,737.7 1038.0,737.7 1039.0,737.7 1040.0,737.7 1041.0,737.7 1042.0,737.7 1043.0,737.7 1044.0,737.7 1045.0,737.7 1046.0,737.7 1047.0,737.7 1048.0,737.7 1049.0,737.7 1050.0,737.7 1051.0,737.7 1052.0,737.7 1053.0,737.7 1054.0,737.7 1055.0,737.7 1056.0,737.7 1057.0,737.7 1058.0,737.7 1059.0,737.7 1060.0,737.7 1061.0,737.7 1062.0,737.7 1063.0,737.7 1064.0,737.7 1065.0,737.7 1066.0,737.7 1067.0,737.7 1068.0,737.7 1069.0,737.7 1070.0,737.7 1071.0,737.7 1072.0,737.7 1073.0,737.7 1074.0,737.7 1075.0,737.7 1076.0,737.7 1077.0,737.7 1078.0,737.7 1079.0,737.7 1080.0,737.7 1081.0,737.7 1082.0,737.7 1083.0,737.7 1084.0,737.7 1085.0,737.7 1086.0,737.7 1087.0,737.8 1088.0,737.8 1089.0,737.8 1090.0,737.8 1091.0,737.8 1092.0,737.8 1093.0,737.9 1094.0,737.9 1095.0,737.9 1096.0,737.9 1097.0,737.9 1098.0,738.0 1099.0,738.0 1100.0,738.0 1101.0,738.1 1102.0,738.1 1103.0,738.2 1104.0,738.2 1105.0,738.3 1106.0,738.4 1107.0,738.4 1108.0,738.5 1109.0,738.5 1110.0,738.6 1111.0,738.7 1112.0,738.7 1113.0,738.8 1114.0,738.9 1115.0,739.0 1116.0,739.2 1116.9,739.3 1117.9,739.5 1118.9,739.7 1119.9,740.0 1120.8,740.3 1121.8,740.6 1122.7,740.9 1123.6,741.3 1124.6,741.7 1125.5,742.1 1126.4,742.6 1127.2,743.0 1128.1,743.5 1129.0,744.1 1129.8,744.6 1130.6,745.2 1131.4,745.7 1132.2,746.4 1133.0,747.0 1133.7,747.7 1134.5,748.3 1135.2,749.0 1135.9,749.8 1136.6,750.5 1137.3,751.2 1137.9,751.9 1138.6,752.7 1139.3,753.4 1140.0,754.2 1140.6,754.9 1141.3,755.7 1141.9,756.5 1142.5,757.3 1143.1,758.1 1143.7,758.9 1144.2,759.7 1144.8,760.6 1145.3,761.4 1145.7,762.3 1146.2,763.2 1146.6,764.1 1147.1,765.0 1147.5,765.9 1147.9,766.8 1148.3,767.7 1148.7,768.6 1149.1,769.6 1149.5,770.5 1149.9,771.4 1150.3,772.3 1150.7,773.2 1151.1,774.1 1151.5,775.1 1151.9,776.0 1152.3,776.9 1152.7,777.8 1153.1,778.7 1153.4,779.7 1153.8,780.6 1154.2,781.5 1154.6,782.4 1155.0,783.4 1155.3,784.3 1155.7,785.2 1156.0,786.2 1156.4,787.1 1156.7,788.0 1157.1,789.0 1157.4,789.9 1157.7,790.9 1158.1,791.8 1158.4,792.8 1158.7,793.7 1159.0,794.6 1159.4,795.6 1159.7,796.5 1160.0,797.5 1160.3,798.4 1160.7,799.4 1161.0,800.3 1161.3,801.3 1161.6,802.2 1161.9,803.2 1162.2,804.1 1162.5,805.1 1162.9,806.0 1163.2,807.0 1163.5,807.9 1163.8,808.9 1164.1,809.8 1164.4,810.8 1164.8,811.7 1165.1,812.6 1165.5,813.6 1165.8,814.5 1166.2,815.5 1166.5,816.4 1166.9,817.3 1167.3,818.2 1167.7,819.2 1168.1,820.1 1168.5,821.0 1168.9,821.9 1169.3,822.8 1169.8,823.7 1170.2,824.6 1170.6,825.5 1171.1,826.4 1171.6,827.3 1172.0,828.1 1172.5,829.0 1173.0,829.9 1173.5,830.8 1174.0,831.6 1174.5,832.5 1175.1,833.3 1175.6,834.2 1176.1,835.0 1176.7,835.9 1177.2,836.7 1177.7,837.6 1178.3,838.4 1178.9,839.2 1179.4,840.0 1180.0,840.8 1180.6,841.6 1181.2,842.4 1181.9,843.2 1182.5,844.0 1183.1,844.8 1183.7,845.6 1184.4,846.3 1185.0,847.1 1185.7,847.8 1186.4,848.5 1187.1,849.2 1187.9,849.9 1188.6,850.5 1189.4,851.2 1190.2,851.8 1190.9,852.5 1191.7,853.1 1192.6,853.6 1193.4,854.2 1194.3,854.7 1195.1,855.2 1196.0,855.6 1197.0,856.0 1197.9,856.3 1198.8,856.6 1199.8,856.9 1200.8,857.2 1201.8,857.4 1202.7,857.6 1203.7,857.7 1204.7,857.9 1205.7,858.0 1206.7,858.1 1207.7,858.2 1208.7,858.3 1209.7,858.4 1210.7,858.5 1211.7,858.5 1212.7,858.6 1213.7,858.7 1214.7,858.8 1215.7,858.8 1216.7,858.9 1217.7,859.0 1218.7,859.0 1219.7,859.1 1220.7,859.1 1221.7,859.2 1222.7,859.2 1223.7,859.3 1224.7,859.3 1225.7,859.3 1226.7,859.3 1227.7,859.4 1228.7,859.4 1229.7,859.4 1230.7,859.4 1231.7,859.4 1232.7,859.4 1233.7,859.4 1234.7,859.5 1235.7,859.5 1236.7,859.5 1237.7,859.5 1238.7,859.5 1239.7,859.5 1240.7,859.5 1241.7,859.5 1242.7,859.5 1243.7,859.5 1244.7,859.5 1245.7,859.5 1246.7,859.4 1247.7,859.4 1248.7,859.4 1249.7,859.4 1250.7,859.4 1251.7,859.4 1252.7,859.4 1253.7,859.4 1254.7,859.4 1255.7,859.4 1256.7,859.4 1257.7,859.3 1258.7,859.3 1259.7,859.3 1260.7,859.3 1261.7,859.3 1262.7,859.3 1263.7,859.3 1264.7,859.3 1265.7,859.3 1266.7,859.2 1267.7,859.2 1268.7,859.2 1269.7,859.2 1270.7,859.2 1271.7,859.2 1272.7,859.2 1273.7,859.2 1274.7,859.2 1275.7,859.1 1276.7,859.1 1277.7,859.1 1278.7,859.1 1279.7,859.1 1280.7,859.1 1281.7,859.1 1282.7,859.1 1283.7,859.1 1284.7,859.1 1285.7,859.1 1286.7,859.0 1287.7,859.0 1288.7,859.0 1289.7,859.0 1290.7,859.0 1291.7,859.0 1292.7,859.0 1293.7,859.0 1294.7,859.0 1295.7,859.0 1296.7,859.0 1297.7,859.0 1298.7,859.0 1299.7,859.0 1300.7,859.0 1301.7,859.0 1302.7,859.0 1303.7,859.0 1304.7,859.0 1305.7,859.0 1306.7,859.0 1307.7,859.0 1308.7,859.0 1309.7,859.0 1310.7,859.0 1311.7,859.0 1312.7,859.0 1313.7,859.0 1314.7,859.0 1315.7,859.0 1316.7,859.0 1317.7,859.0 1318.7,859.0 1319.7,859.0 1320.7,859.0 1321.7,859.0 1322.7,859.0 1323.7,859.0 1324.7,859.0 1325.7,859.0 1326.7,859.0 1327.7,859.0 1328.7,859.0 1329.7,859.0 1330.7,859.0 1331.7,859.0 1332.7,859.0 1333.7,859.0 1334.7,859.0 1335.7,859.0 1336.7,859.0 1337.7,859.0 1338.7,859.0 1339.7,859.0 1340.7,859.0 1341.7,859.0 1342.7,859.0 1343.7,859.0 1344.7,859.0 1345.7,859.0 1346.7,859.0 1347.7,859.0 1348.7,859.0 1349.7,859.0 1350.7,859.0 1351.7,859.0 1352.7,859.0 1353.7,859.0 1354.7,859.0 1355.7,859.0 1356.7,859.0 1357.7,859.0 1358.7,859.0 1359.7,859.0 1360.7,859.0 1361.7,859.0 1362.7,859.0 1363.7,859.0 1364.7,859.0 1365.7,859.0 1366.7,859.0 1367.7,859.0 1368.7,859.0 1369.7,859.0 1370.7,859.0 1371.7,859.0 1372.7,859.0 1373.7,859.0 1374.7,859.0 1375.7,859.0 1376.7,859.0 1377.7,859.0 1378.7,859.0 1379.7,859.0 1380.7,859.0 1381.7,859.0 1382.7,859.0 1383.7,859.0 1384.7,859.0 1385.7,859.0 1386.7,859.0 1387.7,859.0 1388.7,859.0 1389.7,859.0 1390.7,859.0 1391.7,859.0 1392.7,859.0 1393.7,859.0 1394.7,859.0 1395.7,859.0 1396.7,859.0 1397.7,859.0 1398.7,859.0 1399.7,859.0 1400.7,859.0 1401.7,859.0 1402.7,859.0 1403.7,859.0 1404.7,859.0 1405.7,859.0 1406.7,859.0 1407.7,859.0 1408.7,859.0 1409.7,859.0 1410.7,859.0 1411.7,859.0 1412.7,859.0 1413.7,859.0 1414.7,859.0 1415.7,859.0 1416.7,859.0 1417.7,859.0 1418.7,859.0 1419.7,859.0 1420.7,859.0 1421.7,859.0 1422.7,859.0 1423.7,859.0 1424.7,859.0 1425.7,859.0 1426.7,859.0 1427.7,859.0 1428.7,859.0 1429.7,859.0 1430.7,859.0 1431.7,859.0 1432.7,859.0 1433.7,859.0 1434.7,859.0 1435.7,859.0 1436.7,859.0 1437.7,859.0 1438.7,859.0 1439.7,859.0 1440.7,859.0 1441.7,859.0 1442.7,859.0 1443.7,859.0 1444.7,859.0 1445.7,859.0 1446.7,859.0 1447.7,859.0 1448.7,859.0 1449.7,859.0 1450.7,859.0 1451.7,859.0 1452.7,859.0 1453.7,859.0 1454.7,859.0 1455.7,859.0 1456.7,859.0 1457.7,859.0 1458.7,859.0 1459.7,859.0 1460.7,859.0 1461.7,859.0 1462.7,859.0 1463.7,859.0 1464.7,859.0 1465.7,859.0 1466.7,859.0 1467.7,859.0 1468.7,859.0 1469.7,859.0 1470.7,859.0 1471.7,859.0 1472.7,859.0 1473.7,859.0 1474.7,859.0 1475.7,859.0 1476.7,859.0 1477.0,859.0" fill="none" stroke="none" marker-start="url(#m11)" marker-mid="url(#m11)" marker-end="url(#m11)"/>
<polyline points="960.0,777.1 961.0,777.1 962.0,777.1 963.0,777.1 964.0,777.1 965.0,777.1 966.0,777.1 967.0,777.1 968.0,777.1 969.0,777.1 970.0,777.1 971.0,777.1 972.0,777.1 973.0,777.1 974.0,777.1 975.0,777.1 976.0,777.1 977.0,777.1 978.0,777.1 979.0,777.1 980.0,777.1 981.0,777.1 982.0,777.1 983.0,777.1 984.0,777.1 985.0,777.1 986.0,777.1 987.0,777.1 988.0,777.1 989.0,777.1 990.0,777.1 991.0,777.1 992.0,777.1 993.0,777.1 994.0,777.1 995.0,777.1 996.0,777.1 997.0,777.1 998.0,777.1 999.0,777.1 1000.0,777.1 1001.0,777.1 1002.0,777.1 1003.0,777.1 1004.0,777.1 1005.0,777.1 1006.0,777.1 1007.0,777.1 1008.0,777.1 1009.0,777.1 1010.0,777.1 1011.0,777.1 1012.0,777.1 1013.0,777.1 1014.0,777.1 1015.0,777.1 1016.0,777.1 1017.0,777.1 1018.0,777.1 1019.0,777.1 1020.0,777.1 1021.0,777.1 1022.0,777.1 1023.0,777.1 1024.0,777.1 1025.0,777.1 1026.0,777.1 1027.0,777.1 1028.0,777.1 1029.0,777.1 1030.0,777.1 1031.0,777.1 1032.0,777.1 1033.0,777.1 1034.0,777.1 1035.0,777.1 1036.0,777.1 1037.0,777.2 1038.0,777.2 1039.0,777.2 1040.0,777.2 1041.0,777.2 1042.0,777.2 1043.0,777.2 1044.0,777.3 1045.0,777.3 1046.0,777.3 1047.0,777.3 1048.0,777.3 1049.0,777.4 1050.0,777.4 1051.0,777.4 1052.0,777.4 1053.0,777.5 1054.0,777.5 1055.0,777.5 1056.0,777.6 1057.0,777.6 1058.0,777.7 1059.0,777.7 1060.0,777.8 1061.0,777.9 1062.0,777.9 1063.0,778.0 1064.0,778.0 1065.0,778.1 1066.0,778.2 1067.0,778.2 1068.0,778.3 1069.0,778.4 1070.0,778.4 1071.0,778.5 1072.0,778.6 1073.0,778.7 1074.0,778.8 1074.9,778.9 1075.9,779.0 1076.9,779.1 1077.9,779.3 1078.9,779.4 1079.9,779.6 1080.9,779.8 1081.9,779.9 1082.9,780.1 1083.8,780.3 1084.8,780.5 1085.8,780.7 1086.8,780.9 1087.8,781.1 1088.7,781.3 1089.7,781.6 1090.7,781.8 1091.6,782.0 1092.6,782.3 1093.6,782.5 1094.5,782.8 1095.5,783.1 1096.5,783.4 1097.4,783.7 1098.4,784.0 1099.3,784.3 1100.3,784.6 1101.2,784.9 1102.1,785.3 1103.1,785.6 1104.0,786.0 1104.9,786.4 1105.8,786.8 1106.7,787.2 1107.6,787.7 1108.5,788.1 1109.4,788.6 1110.3,789.1 1111.2,789.5 1112.1,790.0 1112.9,790.5 1113.8,791.0 1114.6,791.6 1115.5,792.1 1116.3,792.7 1117.1,793.2 1118.0,793.8 1118.8,794.4 1119.6,795.0 1120.3,795.6 1121.1,796.2 1121.9,796.9 1122.6,797.6 1123.3,798.3 1124.0,799.0 1124.7,799.7 1125.4,800.5 1126.0,801.2 1126.7,802.0 1127.3,802.8 1127.9,803.6 1128.5,804.3 1129.1,805.1 1129.7,806.0 1130.3,806.8 1130.8,807.6 1131.3,808.5 1131.8,809.3 1132.4,810.2 1132.9,811.1 1133.4,811.9 1133.9,812.8 1134.4,813.6 1134.9,814.5 1135.3,815.4 1135.8,816.3 1136.3,817.2 1136.8,818.0 1137.2,818.9 1137.7,819.8 1138.2,820.7 1138.7,821.5 1139.2,822.4 1139.8,823.2 1140.3,824.1 1140.8,824.9 1141.4,825.8 1141.9,826.6 1142.5,827.4 1143.1,828.2 1143.6,829.1 1144.2,829.9 1144.8,830.7 1145.4,831.5 1145.9,832.3 1146.5,833.1 1147.1,834.0 1147.7,834.8 1148.3,835.6 1148.9,836.4 1149.5,837.2 1150.1,837.9 1150.8,838.7 1151.4,839.5 1152.1,840.2 1152.7,841.0 1153.4,841.7 1154.1,842.4 1154.8,843.1 1155.5,843.8 1156.2,844.5 1157.0,845.2 1157.8,845.8 1158.6,846.4 1159.4,847.0 1160.2,847.6 1161.0,848.2 1161.8,848.7 1162.7,849.2 1163.6,849.8 1164.4,850.2 1165.3,850.7 1166.2,851.2 1167.1,851.6 1168.0,852.0 1168.9,852.4 1169.9,852.8 1170.8,853.1 1171.8,853.4 1172.7,853.7 1173.7,854.0 1174.6,854.3 1175.6,854.6 1176.6,854.8 1177.5,855.1 1178.5,855.3 1179.5,855.5 1180.5,855.7 1181.4,855.9 1182.4,856.1 1183.4,856.2 1184.4,856.4 1185.4,856.5 1186.4,856.7 1187.4,856.8 1188.4,856.9 1189.4,857.0 1190.4,857.1 1191.4,857.1 1192.3,857.2 1193.3,857.3 1194.3,857.4 1195.3,857.4 1196.3,857.5 1197.3,857.5 1198.3,857.6 1199.3,857.7 1200.3,857.7 1201.3,857.8 1202.3,857.8 1203.3,857.9 1204.3,857.9 1205.3,858.0 1206.3,858.0 1207.3,858.1 1208.3,858.1 1209.3,858.2 1210.3,858.2 1211.3,858.3 1212.3,858.3 1213.3,858.3 1214.3,858.4 1215.3,858.4 1216.3,858.4 1217.3,858.5 1218.3,858.5 1219.3,858.5 1220.3,858.6 1221.3,858.6 1222.3,858.6 1223.3,858.7 1224.3,858.7 1225.3,858.7 1226.3,858.7 1227.3,858.8 1228.3,858.8 1229.3,858.8 1230.3,858.8 1231.3,858.8 1232.3,858.9 1233.3,858.9 1234.3,858.9 1235.3,858.9 1236.3,858.9 1237.3,859.0 1238.3,859.0 1239.3,859.0 1240.3,859.0 1241.3,859.0 1242.3,859.0 1243.3,859.0 1244.3,859.1 1245.3,859.1 1246.3,859.1 1247.3,859.1 1248.3,859.1 1249.3,859.1 1250.3,859.1 1251.3,859.1 1252.3,859.1 1253.3,859.1 1254.3,859.1 1255.3,859.1 1256.3,859.1 1257.3,859.1 1258.3,859.1 1259.3,859.1 1260.3,859.1 1261.3,859.1 1262.3,859.1 1263.3,859.1 1264.3,859.1 1265.3,859.1 1266.3,859.1 1267.3,859.1 1268.3,859.1 1269.3,859.1 1270.3,859.1 1271.3,859.1 1272.3,859.1 1273.3,859.1 1274.3,859.1 1275.3,859.1 1276.3,859.1 1277.3,859.1 1278.3,859.1 1279.3,859.1 1280.3,859.1 1281.3,859.0 1282.3,859.0 1283.3,859.0 1284.3,859.0 1285.3,859.0 1286.3,859.0 1287.3,859.0 1288.3,859.0 1289.3,859.0 1290.3,859.0 1291.3,859.0 1292.3,859.0 1293.3,859.0 1294.3,859.0 1295.3,859.0 1296.3,859.0 1297.3,859.0 1298.3,859.0 1299.3,859.0 1300.3,859.0 1301.3,859.0 1302.3,859.0 1303.3,859.0 1304.3,859.0 1305.3,859.0 1306.3,859.0 1307.3,859.0 1308.3,859.0 1309.3,859.0 1310.3,859.0 1311.3,859.0 1312.3,859.0 1313.3,859.0 1314.3,859.0 1315.3,859.0 1316.3,859.0 1317.3,859.0 1318.3,859.0 1319.3,859.0 1320.3,859.0 1321.3,859.0 1322.3,859.0 1323.3,859.0 1324.3,859.0 1325.3,859.0 1326.3,859.0 1327.3,859.0 1328.3,859.0 1329.3,859.0 1330.3,859.0 1331.3,859.0 1332.3,859.0 1333.3,859.0 1334.3,859.0 1335.3,859.0 1336.3,859.0 1337.3,859.0 1338.3,859.0 1339.3,859.0 1340.3,859.0 1341.3,859.0 1342.3,859.0 1343.3,859.0 1344.3,859.0 1345.3,859.0 1346.3,859.0 1347.3,859.0 1348.3,859.0 1349.3,859.0 1350.3,859.0 1351.3,859.0 1352.3,859.0 1353.3,859.0 1354.3,859.0 1355.3,859.0 1356.3,859.0 1357.3,859.0 1358.3,859.0 1359.3,859.0 1360.3,859.0 1361.3,859.0 1362.3,859.0 1363.3,859.0 1364.3,859.0 1365.3,859.0 1366.3,859.0 1367.3,859.0 1368.3,859.0 1369.3,859.0 1370.3,859.0 1371.3,859.0 1372.3,859.0 1373.3,859.0 1374.3,859.0 1375.3,859.0 1376.3,859.0 1377.3,859.0 1378.3,859.0 1379.3,859.0 1380.3,859.0 1381.3,859.0 1382.3,859.0 1383.3,859.0 1384.3,859.0 1385.3,859.0 1386.3,859.0 1387.3,859.0 1388.3,859.0 1389.3,859.0 1390.3,859.0 1391.3,859.0 1392.3,859.0 1393.3,859.0 1394.3,859.0 1395.3,859.0 1396.3,859.0 1397.3,859.0 1398.3,859.0 1399.3,859.0 1400.3,859.0 1401.3,859.0 1402.3,859.0 1403.3,859.0 1404.3,859.0 1405.3,859.0 1406.3,859.0 1407.3,859.0 1408.3,859.0 1409.3,859.0 1410.3,859.0 1411.3,859.0 1412.3,859.0 1413.3,859.0 1414.3,859.0 1415.3,859.0 1416.3,859.0 1417.3,859.0 1418.3,859.0 1419.3,859.0 1420.3,859.0 1421.3,859.0 1422.3,859.0 1423.3,859.0 1424.3,859.0 1425.3,859.0 1426.3,859.0 1427.3,859.0 1428.3,859.0 1429.3,859.0 1430.3,859.0 1431.0,859.0" fill="none" stroke="none" marker-start="url(#m12)" marker-mid="url(#m12)" marker-end="url(#m12)"/>
<polygon points="1070.0,742.4 1080.0,742.6 1090.0,743.1 1100.2,745.1 1110.3,749.2 1120.4,755.2 1124.6,760.0 1130.2,769.1 1134.4,777.5 1137.9,784.5 1141.4,793.6 1144.2,801.3 1147.0,807.6 1148.4,810.4 1154.0,816.0 1159.6,820.9 1163.8,825.1 1167.6,829.8 1175.1,835.9 1182.7,841.2 1190.3,846.1 1197.8,849.9 1205.4,852.2 1213.0,853.7 1220.5,854.8 1228.1,855.6 1241.7,856.3 1243.2,857.1 1260.0,857.1 1260.0,860.9 1182.7,860.5 1171.3,859.0 1161.0,853.8 1154.0,848.9 1147.0,842.6 1143.5,837.7 1140.0,832.1 1136.5,825.1 1133.7,818.1 1130.9,812.5 1126.0,807.6 1119.0,802.0 1112.0,797.1 1105.0,792.9 1098.0,789.4 1091.0,786.6 1084.0,783.8 1077.0,781.7 1070.0,780.6 1070.0,775.7 1077.0,776.1 1084.0,777.1 1091.0,778.5 1098.0,779.9 1105.0,781.7 1112.0,783.4 1118.3,785.2 1116.2,779.6 1113.4,772.6 1109.2,766.3 1103.6,760.0 1100.2,756.2 1090.1,751.2 1080.0,748.2 1070.0,746.8" fill="#8a4f49"/>
<rect x="909.7" y="541.4" width="14.6" height="4.0" fill="#8a4f49"/>
<text x="929.8" y="547.9" font-size="15.5" fill="#262626" text-anchor="start" font-weight="normal" textLength="183.1" lengthAdjust="spacingAndGlyphs" stroke="#262626" stroke-width="0.55">330 PPM 25% HEFA</text>
<rect x="1142.2" y="541.4" width="10.8" height="4.0" fill="#c00000"/>
<text x="1160.4" y="547.9" font-size="15.5" fill="#262626" text-anchor="start" font-weight="normal" textLength="185.1" lengthAdjust="spacingAndGlyphs" stroke="#262626" stroke-width="0.55">400 PPM 25% HEFA</text>
<rect x="1373.6" y="541.4" width="15.1" height="4.0" fill="#8a4f49"/>
<text x="1393.0" y="547.9" font-size="15.5" fill="#262626" text-anchor="start" font-weight="normal" textLength="183.9" lengthAdjust="spacingAndGlyphs" stroke="#262626" stroke-width="0.55">300 PPM 25% HEFA</text>
<text x="1138.2" y="957.7" font-size="17.3" fill="#404040" text-anchor="start" font-weight="normal" textLength="183.5" lengthAdjust="spacingAndGlyphs">Temperature, T (°C)</text>
<text transform="translate(833.6,733.6) rotate(-90)" x="0" y="0" font-size="17.7" fill="#404040" text-anchor="middle" textLength="228.0" lengthAdjust="spacingAndGlyphs">Pressure differential, ΔP (psig)</text>
<line x1="408.7" y1="1026.9" x2="1124.3" y2="1026.9" stroke="#d9d9d9" stroke-width="1.8"/>
<line x1="408.7" y1="1069.5" x2="1124.3" y2="1069.5" stroke="#d9d9d9" stroke-width="1.8"/>
<line x1="408.7" y1="1112.0" x2="1124.3" y2="1112.0" stroke="#d9d9d9" stroke-width="1.8"/>
<line x1="408.7" y1="1154.5" x2="1124.3" y2="1154.5" stroke="#d9d9d9" stroke-width="1.8"/>
<line x1="408.7" y1="1197.1" x2="1124.3" y2="1197.1" stroke="#d9d9d9" stroke-width="1.8"/>
<line x1="408.7" y1="1239.7" x2="1124.3" y2="1239.7" stroke="#d9d9d9" stroke-width="1.8"/>
<line x1="408.7" y1="1282.2" x2="1124.3" y2="1282.2" stroke="#d9d9d9" stroke-width="1.8"/>
<line x1="408.7" y1="1324.8" x2="1124.3" y2="1324.8" stroke="#d9d9d9" stroke-width="1.8"/>
<line x1="408.7" y1="1367.3" x2="1124.3" y2="1367.3" stroke="#d9d9d9" stroke-width="1.8"/>
<line x1="408.7" y1="1026.9" x2="408.7" y2="1367.3" stroke="#d9d9d9" stroke-width="2.0"/>
<line x1="587.6" y1="1026.9" x2="587.6" y2="1367.3" stroke="#d9d9d9" stroke-width="2.0"/>
<line x1="766.5" y1="1026.9" x2="766.5" y2="1367.3" stroke="#d9d9d9" stroke-width="2.0"/>
<line x1="945.4" y1="1026.9" x2="945.4" y2="1367.3" stroke="#d9d9d9" stroke-width="2.0"/>
<line x1="1124.3" y1="1026.9" x2="1124.3" y2="1367.3" stroke="#d9d9d9" stroke-width="2.0"/>
<line x1="408.7" y1="1324.8" x2="1124.3" y2="1324.8" stroke="#bfbfbf" stroke-width="1.8"/>
<line x1="766.5" y1="1026.9" x2="766.5" y2="1367.3" stroke="#bfbfbf" stroke-width="1.8"/>
<text x="408.7" y="1398.7" font-size="14.5" fill="#404040" text-anchor="middle" font-weight="normal" textLength="30.0" lengthAdjust="spacingAndGlyphs" stroke="#404040" stroke-width="0.25">-20</text>
<text x="587.6" y="1398.7" font-size="14.5" fill="#404040" text-anchor="middle" font-weight="normal" textLength="28.4" lengthAdjust="spacingAndGlyphs" stroke="#404040" stroke-width="0.25">-10</text>
<text x="766.5" y="1398.7" font-size="14.5" fill="#404040" text-anchor="middle" font-weight="normal" textLength="10.6" lengthAdjust="spacingAndGlyphs" stroke="#404040" stroke-width="0.25">0</text>
<text x="945.4" y="1398.7" font-size="14.5" fill="#404040" text-anchor="middle" font-weight="normal" textLength="20.4" lengthAdjust="spacingAndGlyphs" stroke="#404040" stroke-width="0.25">10</text>
<text x="1124.3" y="1398.7" font-size="14.5" fill="#404040" text-anchor="middle" font-weight="normal" textLength="22.0" lengthAdjust="spacingAndGlyphs" stroke="#404040" stroke-width="0.25">20</text>
<text x="386.0" y="1035.5" font-size="14.5" fill="#404040" text-anchor="end" font-weight="normal" textLength="9.8" lengthAdjust="spacingAndGlyphs" stroke="#404040" stroke-width="0.25">7</text>
<text x="386.0" y="1074.1" font-size="14.5" fill="#404040" text-anchor="end" font-weight="normal" textLength="10.2" lengthAdjust="spacingAndGlyphs" stroke="#404040" stroke-width="0.25">6</text>
<text x="386.0" y="1120.6" font-size="14.5" fill="#404040" text-anchor="end" font-weight="normal" textLength="10.0" lengthAdjust="spacingAndGlyphs" stroke="#404040" stroke-width="0.25">5</text>
<text x="386.0" y="1163.2" font-size="14.5" fill="#404040" text-anchor="end" font-weight="normal" textLength="10.4" lengthAdjust="spacingAndGlyphs" stroke="#404040" stroke-width="0.25">4</text>
<text x="386.0" y="1205.7" font-size="14.5" fill="#404040" text-anchor="end" font-weight="normal" textLength="10.0" lengthAdjust="spacingAndGlyphs" stroke="#404040" stroke-width="0.25">3</text>
<text x="386.0" y="1245.9" font-size="14.5" fill="#404040" text-anchor="end" font-weight="normal" textLength="10.2" lengthAdjust="spacingAndGlyphs" stroke="#404040" stroke-width="0.25">2</text>
<text x="386.0" y="1288.4" font-size="14.5" fill="#404040" text-anchor="end" font-weight="normal" textLength="8.6" lengthAdjust="spacingAndGlyphs" stroke="#404040" stroke-width="0.25">1</text>
<text x="386.0" y="1331.0" font-size="14.5" fill="#404040" text-anchor="end" font-weight="normal" textLength="10.6" lengthAdjust="spacingAndGlyphs" stroke="#404040" stroke-width="0.25">0</text>
<text x="386.0" y="1373.5" font-size="14.5" fill="#404040" text-anchor="end" font-weight="normal" textLength="16.6" lengthAdjust="spacingAndGlyphs" stroke="#404040" stroke-width="0.25">-1</text>
<polyline points="479.0,1305.3 480.0,1305.3 481.0,1305.3 482.0,1305.3 483.0,1305.3 484.0,1305.3 485.0,1305.3 486.0,1305.3 487.0,1305.3 488.0,1305.3 489.0,1305.3 490.0,1305.3 491.0,1305.3 492.0,1305.3 493.0,1305.3 494.0,1305.3 495.0,1305.3 496.0,1305.3 497.0,1305.3 498.0,1305.3 499.0,1305.3 500.0,1305.3 501.0,1305.3 502.0,1305.3 503.0,1305.3 504.0,1305.3 505.0,1305.3 506.0,1305.3 507.0,1305.3 508.0,1305.3 509.0,1305.3 510.0,1305.3 511.0,1305.3 512.0,1305.3 513.0,1305.3 514.0,1305.3 515.0,1305.3 516.0,1305.3 517.0,1305.3 518.0,1305.3 519.0,1305.3 520.0,1305.3 521.0,1305.3 522.0,1305.3 523.0,1305.3 524.0,1305.3 525.0,1305.3 526.0,1305.3 527.0,1305.3 528.0,1305.3 529.0,1305.3 530.0,1305.3 531.0,1305.3 532.0,1305.3 533.0,1305.3 534.0,1305.3 535.0,1305.3 536.0,1305.3 537.0,1305.3 538.0,1305.3 539.0,1305.3 540.0,1305.3 541.0,1305.3 542.0,1305.3 543.0,1305.3 544.0,1305.3 545.0,1305.3 546.0,1305.3 547.0,1305.3 548.0,1305.3 549.0,1305.3 550.0,1305.3 551.0,1305.3 552.0,1305.3 553.0,1305.3 554.0,1305.3 555.0,1305.3 556.0,1305.3 557.0,1305.3 558.0,1305.3 559.0,1305.3 560.0,1305.3 561.0,1305.3 562.0,1305.3 563.0,1305.3 564.0,1305.3 565.0,1305.3 566.0,1305.3 567.0,1305.3 568.0,1305.3 569.0,1305.3 570.0,1305.3 571.0,1305.3 572.0,1305.3 573.0,1305.3 574.0,1305.2 575.0,1305.2 576.0,1305.2 577.0,1305.2 578.0,1305.2 579.0,1305.2 580.0,1305.2 581.0,1305.2 582.0,1305.2 583.0,1305.2 584.0,1305.2 585.0,1305.2 586.0,1305.2 587.0,1305.1 588.0,1305.1 589.0,1305.1 590.0,1305.1 591.0,1305.1 592.0,1305.1 593.0,1305.1 594.0,1305.1 595.0,1305.1 596.0,1305.1 597.0,1305.1 598.0,1305.1 599.0,1305.1 600.0,1305.1 601.0,1305.1 602.0,1305.0 603.0,1305.0 604.0,1305.0 605.0,1305.0 606.0,1305.0 607.0,1305.0 608.0,1305.0 609.0,1305.0 610.0,1305.0 611.0,1305.0 612.0,1305.0 613.0,1305.0 614.0,1305.1 615.0,1305.1 616.0,1305.1 617.0,1305.1 618.0,1305.1 619.0,1305.1 620.0,1305.1 621.0,1305.1 622.0,1305.2 623.0,1305.2 624.0,1305.2 625.0,1305.3 626.0,1305.3 627.0,1305.3 628.0,1305.4 629.0,1305.5 630.0,1305.5 631.0,1305.6 632.0,1305.7 633.0,1305.8 634.0,1306.0 635.0,1306.1 635.9,1306.3 636.9,1306.5 637.9,1306.6 638.9,1306.8 639.9,1306.9 640.9,1307.1 641.9,1307.2 642.9,1307.4 643.8,1307.5 644.8,1307.7 645.8,1307.9 646.8,1308.2 647.7,1308.4 648.7,1308.7 649.6,1309.1 650.6,1309.5 651.5,1309.9 652.3,1310.4 653.2,1310.9 654.0,1311.4 654.9,1311.9 655.7,1312.5 656.6,1313.0 657.5,1313.5 658.3,1314.0 659.2,1314.5 660.1,1315.0 660.9,1315.5 661.8,1316.0 662.7,1316.5 663.5,1317.0 664.4,1317.5 665.3,1317.9 666.2,1318.4 667.1,1318.8 668.0,1319.3 668.9,1319.7 669.8,1320.1 670.7,1320.5 671.6,1320.9 672.6,1321.2 673.5,1321.6 674.5,1321.9 675.4,1322.2 676.4,1322.5 677.3,1322.7 678.3,1323.0 679.3,1323.2 680.3,1323.3 681.3,1323.5 682.2,1323.7 683.2,1323.8 684.2,1323.9 685.2,1324.0 686.2,1324.0 687.2,1324.1 688.2,1324.1 689.2,1324.2 690.2,1324.2 691.2,1324.3 692.2,1324.3 693.2,1324.3 694.2,1324.4 695.2,1324.4 696.2,1324.4 697.2,1324.5 698.2,1324.5 699.2,1324.5 700.2,1324.5 701.2,1324.5 702.2,1324.5 703.2,1324.5 704.2,1324.5 705.2,1324.5 706.2,1324.5 707.2,1324.6 708.2,1324.6 709.2,1324.6 710.2,1324.5 711.2,1324.5 712.2,1324.5 713.2,1324.5 714.2,1324.5 715.2,1324.5 716.2,1324.5 717.2,1324.5 718.2,1324.5 719.2,1324.5 720.2,1324.5 721.2,1324.5 722.2,1324.5 723.2,1324.5 724.2,1324.5 725.2,1324.5 726.2,1324.5 727.2,1324.5 728.2,1324.5 729.2,1324.5 730.2,1324.5 731.2,1324.4 732.2,1324.4 733.2,1324.4 734.2,1324.4 735.2,1324.4 736.2,1324.4 737.2,1324.4 738.2,1324.4 739.2,1324.4 740.2,1324.4 741.2,1324.4 742.2,1324.4 743.2,1324.4 744.2,1324.4 745.2,1324.4 746.2,1324.4 747.2,1324.4 748.2,1324.4 749.2,1324.4 750.2,1324.4 751.2,1324.4 752.2,1324.4 753.2,1324.4 754.2,1324.4 755.2,1324.4 756.2,1324.4 757.2,1324.4 758.2,1324.4 759.2,1324.4 760.2,1324.4 761.2,1324.4 762.2,1324.4 763.2,1324.4 764.2,1324.4 765.2,1324.4 766.2,1324.4 767.2,1324.4 768.2,1324.4 769.2,1324.4 770.2,1324.4 771.2,1324.4 772.2,1324.4 773.2,1324.4 774.2,1324.4 775.2,1324.4 776.2,1324.4 777.2,1324.4 778.2,1324.4 779.2,1324.4 780.2,1324.4 781.2,1324.4 782.2,1324.4 783.2,1324.4 784.2,1324.4 785.2,1324.4 786.2,1324.4 787.2,1324.4 788.2,1324.4 789.2,1324.4 790.2,1324.4 791.2,1324.4 792.2,1324.4 793.2,1324.4 794.2,1324.4 795.2,1324.4 796.2,1324.4 797.2,1324.4 798.2,1324.4 799.2,1324.4 800.2,1324.4 801.2,1324.4 802.2,1324.4 803.2,1324.4 804.2,1324.4 805.2,1324.4 806.2,1324.4 807.2,1324.4 808.2,1324.4 809.2,1324.4 810.2,1324.4 811.2,1324.4 812.2,1324.4 813.2,1324.4 814.2,1324.4 815.2,1324.4 816.2,1324.4 817.2,1324.4 818.2,1324.4 819.2,1324.4 820.2,1324.4 821.2,1324.4 822.2,1324.4 823.2,1324.4 824.2,1324.4 825.2,1324.4 826.2,1324.4 827.2,1324.4 828.2,1324.4 829.2,1324.4 830.2,1324.4 831.2,1324.4 832.2,1324.4 833.2,1324.4 834.2,1324.4 835.2,1324.4 836.2,1324.4 837.2,1324.4 838.2,1324.4 839.2,1324.4 840.2,1324.4 841.2,1324.4 842.2,1324.4 843.2,1324.4 844.2,1324.4 845.2,1324.4 846.2,1324.4 847.2,1324.4 848.2,1324.4 849.2,1324.4 850.2,1324.4 851.2,1324.4 852.2,1324.4 853.2,1324.4 854.2,1324.4 855.2,1324.4 856.2,1324.4 857.2,1324.4 858.2,1324.4 859.2,1324.4 860.2,1324.4 861.2,1324.4 862.2,1324.4 863.2,1324.4 864.2,1324.4 865.2,1324.4 866.2,1324.4 867.2,1324.4 868.2,1324.4 869.2,1324.4 870.2,1324.4 871.2,1324.4 872.2,1324.4 873.2,1324.4 874.2,1324.4 875.2,1324.4 876.2,1324.4 877.2,1324.4 878.2,1324.4 879.2,1324.4 880.2,1324.4 881.2,1324.4 882.2,1324.4 883.2,1324.4 884.2,1324.4 885.2,1324.4 886.2,1324.4 887.2,1324.4 888.2,1324.4 889.2,1324.4 890.2,1324.4 891.2,1324.4 892.2,1324.4 893.2,1324.4 894.2,1324.4 895.2,1324.4 896.2,1324.4 897.2,1324.4 898.2,1324.4 899.2,1324.4 900.2,1324.4 901.2,1324.4 902.2,1324.4 903.2,1324.4 904.2,1324.4 905.2,1324.4 906.2,1324.4 907.2,1324.4 908.2,1324.4 909.2,1324.4 910.2,1324.4 911.2,1324.4 912.2,1324.4 913.2,1324.4 914.2,1324.4 915.2,1324.4 916.2,1324.4 917.2,1324.4 918.2,1324.4 919.2,1324.4 920.2,1324.4 921.2,1324.4 922.2,1324.4 923.2,1324.4 924.2,1324.4 925.2,1324.4 926.2,1324.4 927.2,1324.4 928.2,1324.4 929.2,1324.4 930.2,1324.4 931.2,1324.4 932.2,1324.4 933.2,1324.4 934.2,1324.4 935.2,1324.4 936.2,1324.4 937.2,1324.4 938.2,1324.4 939.2,1324.4 940.2,1324.4 941.2,1324.4 942.2,1324.4 943.2,1324.4 944.2,1324.4 945.2,1324.4 946.2,1324.4 947.2,1324.4 948.2,1324.4 949.2,1324.4 950.2,1324.4 951.2,1324.4 952.2,1324.4 953.2,1324.4 954.2,1324.4 955.2,1324.4 956.2,1324.4 957.2,1324.4 958.2,1324.4 959.2,1324.4 960.2,1324.4 961.2,1324.4 962.2,1324.4 963.2,1324.4 964.2,1324.4 965.2,1324.4 966.2,1324.4 967.2,1324.4 968.2,1324.4 969.2,1324.4 970.2,1324.4 971.2,1324.4 972.2,1324.4 973.2,1324.4 974.2,1324.4 975.2,1324.4 976.2,1324.4 977.2,1324.4 978.2,1324.4 979.2,1324.4 980.2,1324.4 981.2,1324.4 982.2,1324.4 983.2,1324.4 984.2,1324.4 985.2,1324.4 986.2,1324.4 987.2,1324.4 988.2,1324.4 989.2,1324.4 990.2,1324.4 991.2,1324.4 992.2,1324.4 993.2,1324.4 994.2,1324.4 995.2,1324.4 996.2,1324.4 997.2,1324.4 998.2,1324.4 999.2,1324.4 1000.2,1324.4 1001.2,1324.4 1002.2,1324.4 1003.2,1324.4 1004.2,1324.4 1005.2,1324.4 1006.2,1324.4 1007.2,1324.4 1008.2,1324.4 1009.2,1324.4 1010.2,1324.4 1011.2,1324.4 1012.2,1324.4 1013.2,1324.4 1014.2,1324.4 1015.2,1324.4 1016.2,1324.4 1017.2,1324.4 1018.2,1324.4 1019.2,1324.4 1020.2,1324.4 1021.2,1324.4 1022.2,1324.4 1023.2,1324.4 1024.2,1324.4 1025.2,1324.4 1026.2,1324.4 1027.2,1324.4 1028.2,1324.4 1029.2,1324.4 1030.2,1324.4 1031.2,1324.4 1032.2,1324.4 1033.2,1324.4 1034.2,1324.4 1035.2,1324.4 1036.2,1324.4 1037.2,1324.4 1038.2,1324.4 1039.2,1324.4 1040.2,1324.4 1041.2,1324.4 1042.2,1324.4 1043.2,1324.4 1044.2,1324.4 1045.2,1324.4 1046.2,1324.4 1047.2,1324.4 1048.2,1324.4 1049.2,1324.4 1050.2,1324.4 1051.2,1324.4 1052.2,1324.4 1053.2,1324.4 1054.2,1324.4 1055.2,1324.4 1056.2,1324.4 1057.2,1324.4 1058.2,1324.4 1059.2,1324.4 1060.2,1324.4 1061.2,1324.4 1062.2,1324.4 1063.2,1324.4 1064.2,1324.4 1065.2,1324.4 1066.2,1324.4 1067.2,1324.4 1068.2,1324.4 1069.2,1324.4 1070.2,1324.4 1071.2,1324.4 1072.2,1324.4 1073.2,1324.4 1074.2,1324.4 1075.2,1324.4 1076.2,1324.4 1077.2,1324.4 1078.2,1324.4 1079.2,1324.4 1080.2,1324.4 1081.2,1324.4 1082.2,1324.4 1083.2,1324.4 1084.2,1324.4 1085.2,1324.4 1086.2,1324.4 1087.2,1324.4 1088.2,1324.4 1089.0,1324.4" fill="none" stroke="none" marker-start="url(#m13)" marker-mid="url(#m13)" marker-end="url(#m13)"/>
<polyline points="466.0,1324.4 469.0,1324.4 472.0,1324.4 475.0,1324.4 478.0,1324.4 481.0,1324.4 484.0,1324.4 487.0,1324.4 490.0,1324.4 493.0,1324.4 496.0,1324.4 499.0,1324.4 502.0,1324.4 505.0,1324.4 508.0,1324.4 511.0,1324.4 514.0,1324.4 517.0,1324.4 520.0,1324.4 523.0,1324.4 526.0,1324.4 529.0,1324.4 532.0,1324.4 535.0,1324.4 538.0,1324.4 541.0,1324.4 544.0,1324.4 547.0,1324.4 550.0,1324.4 553.0,1324.4 556.0,1324.4 559.0,1324.4 562.0,1324.4 565.0,1324.4 568.0,1324.4 571.0,1324.4 574.0,1324.4 577.0,1324.4 580.0,1324.4 583.0,1324.4 586.0,1324.4 589.0,1324.4 592.0,1324.4 595.0,1324.4 598.0,1324.4 601.0,1324.4 604.0,1324.4 607.0,1324.4 610.0,1324.4 613.0,1324.4 616.0,1324.4 619.0,1324.4 622.0,1324.4 625.0,1324.4 628.0,1324.4 631.0,1324.4 634.0,1324.4 637.0,1324.4 640.0,1324.4 643.0,1324.4 646.0,1324.4 649.0,1324.4 652.0,1324.4 655.0,1324.4 658.0,1324.4 661.0,1324.4 664.0,1324.4 667.0,1324.4 670.0,1324.4 673.0,1324.4 676.0,1324.4 679.0,1324.4 682.0,1324.4 685.0,1324.4 688.0,1324.4 691.0,1324.4 694.0,1324.4 697.0,1324.4 700.0,1324.4 703.0,1324.4 706.0,1324.4 709.0,1324.4 712.0,1324.4 715.0,1324.4 718.0,1324.4 721.0,1324.4 724.0,1324.4 727.0,1324.4 730.0,1324.4 733.0,1324.4 736.0,1324.4 739.0,1324.4 742.0,1324.4 745.0,1324.4 748.0,1324.4 751.0,1324.4 754.0,1324.4 757.0,1324.4 760.0,1324.4 763.0,1324.4 766.0,1324.4 769.0,1324.4 772.0,1324.4 775.0,1324.4 778.0,1324.4 781.0,1324.4 784.0,1324.4 787.0,1324.4 790.0,1324.4 793.0,1324.4 796.0,1324.4 799.0,1324.4 802.0,1324.4 805.0,1324.4 808.0,1324.4 811.0,1324.4 814.0,1324.4 817.0,1324.4 820.0,1324.4 823.0,1324.4 826.0,1324.4 829.0,1324.4 832.0,1324.4 835.0,1324.4 838.0,1324.4 841.0,1324.4 844.0,1324.4 847.0,1324.4 850.0,1324.4 853.0,1324.4 856.0,1324.4 859.0,1324.4 862.0,1324.4 865.0,1324.4 868.0,1324.4 871.0,1324.4 874.0,1324.4 877.0,1324.4 880.0,1324.4 883.0,1324.4 886.0,1324.4 889.0,1324.4 892.0,1324.4 895.0,1324.4 898.0,1324.4 901.0,1324.4 903.0,1324.4" fill="none" stroke="none" marker-start="url(#m14)" marker-mid="url(#m14)" marker-end="url(#m14)"/>
<rect x="503.2" y="999.0" width="12.5" height="3.8" fill="#ed7d31"/>
<text x="523.3" y="1006.9" font-size="16.0" fill="#262626" text-anchor="start" font-weight="normal" textLength="178.6" lengthAdjust="spacingAndGlyphs" stroke="#262626" stroke-width="0.55">270 PPM 25% ATJ</text>
<rect x="874.0" y="999.0" width="12.5" height="3.8" fill="#bf9000"/>
<text x="893.0" y="1006.9" font-size="16.0" fill="#262626" text-anchor="start" font-weight="normal" textLength="179.7" lengthAdjust="spacingAndGlyphs" stroke="#262626" stroke-width="0.55">250 PPM 25% ATJ</text>
<text x="660.0" y="1422.9" font-size="17.4" fill="#404040" text-anchor="start" font-weight="normal" textLength="198.0" lengthAdjust="spacingAndGlyphs">Temperature, T (°C)</text>
<text transform="translate(353.6,1195.3) rotate(-90)" x="0" y="0" font-size="19.5" fill="#404040" text-anchor="middle" textLength="237.4" lengthAdjust="spacingAndGlyphs">Pressure differential, ΔP (psig)</text>
</svg>
</body></html>
